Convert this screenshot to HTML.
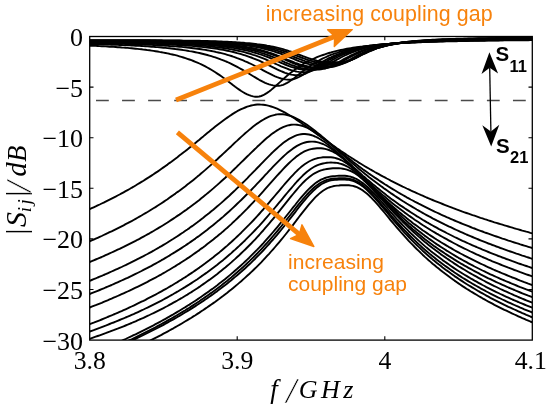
<!DOCTYPE html>
<html><head><meta charset="utf-8"><title>S-parameters vs coupling gap</title>
<style>
html,body{margin:0;padding:0;background:#fff;}
svg{display:block;}
.serif{font-family:"Liberation Serif","DejaVu Serif",serif;}
.sans{font-family:"Liberation Sans","DejaVu Sans",sans-serif;}
</style></head>
<body>
<svg width="550" height="410" viewBox="0 0 550 410">
<rect width="550" height="410" fill="#fff"/>
<defs><clipPath id="pa"><rect x="89.7" y="36.5" width="442.59999999999997" height="303.6"/></clipPath></defs>
<g clip-path="url(#pa)" fill="none" stroke="#000" stroke-width="1.9" stroke-linejoin="round">
<path d="M89.7 209.1 L91.7 208.2 L93.7 207.3 L95.7 206.4 L97.7 205.4 L99.7 204.5 L101.7 203.5 L103.7 202.6 L105.6 201.6 L107.6 200.6 L109.6 199.6 L111.6 198.6 L113.6 197.6 L115.6 196.6 L117.6 195.5 L119.6 194.5 L121.6 193.4 L123.6 192.3 L125.6 191.2 L127.6 190.1 L129.6 189.0 L131.6 187.8 L133.6 186.7 L135.6 185.5 L137.5 184.3 L139.5 183.1 L141.5 181.9 L143.5 180.7 L145.5 179.4 L147.5 178.1 L149.5 176.9 L151.5 175.6 L153.5 174.3 L155.5 172.9 L157.5 171.6 L159.5 170.2 L161.5 168.8 L163.5 167.4 L165.5 166.0 L167.5 164.6 L169.4 163.1 L171.4 161.7 L173.4 160.2 L175.4 158.7 L177.4 157.2 L179.4 155.6 L181.4 154.1 L183.4 152.5 L185.4 151.0 L187.4 149.4 L189.4 147.8 L191.4 146.2 L193.4 144.5 L195.4 142.9 L197.4 141.3 L199.4 139.7 L201.3 138.0 L203.3 136.4 L205.3 134.7 L207.3 133.1 L209.3 131.5 L211.3 129.8 L213.3 128.2 L215.3 126.6 L217.3 125.0 L219.3 123.5 L221.3 122.0 L223.3 120.5 L225.3 119.0 L227.3 117.6 L229.3 116.2 L231.3 114.9 L233.2 113.6 L235.2 112.4 L237.2 111.2 L239.2 110.2 L241.2 109.2 L243.2 108.3 L245.2 107.5 L247.2 106.7 L249.2 106.1 L251.2 105.5 L253.2 105.1 L255.2 104.8 L257.2 104.5 L259.2 104.5 L261.2 104.6 L263.2 104.8 L265.1 105.0 L267.1 105.4 L269.1 105.9 L271.1 106.5 L273.1 107.1 L275.1 107.9 L277.1 108.7 L279.1 109.6 L281.1 110.6 L283.1 111.6 L285.1 112.7 L287.1 113.8 L289.1 115.0 L291.1 116.2 L293.1 117.5 L295.1 118.8 L297.0 120.1 L299.0 121.4 L301.0 122.8 L303.0 124.2 L305.0 125.6 L307.0 127.0 L309.0 128.5 L311.0 129.9 L313.0 131.3 L315.0 132.8 L317.0 134.2 L319.0 135.6 L321.0 137.1 L323.0 138.5 L325.0 139.9 L326.9 141.3 L328.9 142.7 L330.9 144.1 L332.9 145.5 L334.9 146.9 L336.9 148.3 L338.9 149.6 L340.9 151.0 L342.9 152.3 L344.9 153.6 L346.9 155.0 L348.9 156.3 L350.9 157.5 L352.9 158.8 L354.9 160.1 L356.9 161.3 L358.8 162.6 L360.8 163.8 L362.8 165.0 L364.8 166.2 L366.8 167.4 L368.8 168.5 L370.8 169.7 L372.8 170.8 L374.8 172.0 L376.8 173.1 L378.8 174.2 L380.8 175.3 L382.8 176.4 L384.8 177.4 L386.8 178.5 L388.8 179.5 L390.7 180.6 L392.7 181.6 L394.7 182.6 L396.7 183.6 L398.7 184.6 L400.7 185.6 L402.7 186.6 L404.7 187.5 L406.7 188.5 L408.7 189.4 L410.7 190.4 L412.7 191.3 L414.7 192.2 L416.7 193.1 L418.7 194.0 L420.7 194.9 L422.6 195.7 L424.6 196.6 L426.6 197.5 L428.6 198.3 L430.6 199.2 L432.6 200.0 L434.6 200.8 L436.6 201.6 L438.6 202.4 L440.6 203.2 L442.6 204.0 L444.6 204.8 L446.6 205.6 L448.6 206.4 L450.6 207.1 L452.6 207.9 L454.5 208.6 L456.5 209.4 L458.5 210.1 L460.5 210.8 L462.5 211.6 L464.5 212.3 L466.5 213.0 L468.5 213.7 L470.5 214.4 L472.5 215.1 L474.5 215.7 L476.5 216.4 L478.5 217.1 L480.5 217.8 L482.5 218.4 L484.5 219.1 L486.4 219.7 L488.4 220.4 L490.4 221.0 L492.4 221.6 L494.4 222.3 L496.4 222.9 L498.4 223.5 L500.4 224.1 L502.4 224.7 L504.4 225.3 L506.4 225.9 L508.4 226.5 L510.4 227.1 L512.4 227.7 L514.4 228.3 L516.4 228.9 L518.3 229.4 L520.3 230.0 L522.3 230.6 L524.3 231.1 L526.3 231.7 L528.3 232.2 L530.3 232.8 L532.3 233.3"/>
<path d="M89.7 241.3 L91.7 240.4 L93.7 239.6 L95.7 238.7 L97.7 237.8 L99.7 236.9 L101.7 236.0 L103.7 235.0 L105.6 234.1 L107.6 233.2 L109.6 232.2 L111.6 231.3 L113.6 230.3 L115.6 229.3 L117.6 228.3 L119.6 227.3 L121.6 226.3 L123.6 225.3 L125.6 224.2 L127.6 223.2 L129.6 222.1 L131.6 221.1 L133.6 220.0 L135.6 218.9 L137.5 217.8 L139.5 216.6 L141.5 215.5 L143.5 214.3 L145.5 213.1 L147.5 212.0 L149.5 210.8 L151.5 209.5 L153.5 208.3 L155.5 207.1 L157.5 205.8 L159.5 204.5 L161.5 203.2 L163.5 201.9 L165.5 200.5 L167.5 199.2 L169.4 197.8 L171.4 196.4 L173.4 195.0 L175.4 193.6 L177.4 192.1 L179.4 190.7 L181.4 189.2 L183.4 187.7 L185.4 186.2 L187.4 184.6 L189.4 183.1 L191.4 181.5 L193.4 179.9 L195.4 178.3 L197.4 176.6 L199.4 175.0 L201.3 173.3 L203.3 171.6 L205.3 169.9 L207.3 168.1 L209.3 166.4 L211.3 164.6 L213.3 162.8 L215.3 161.0 L217.3 159.2 L219.3 157.3 L221.3 155.5 L223.3 153.6 L225.3 151.8 L227.3 149.9 L229.3 148.0 L231.3 146.2 L233.2 144.3 L235.2 142.4 L237.2 140.6 L239.2 138.7 L241.2 136.9 L243.2 135.1 L245.2 133.3 L247.2 131.6 L249.2 129.9 L251.2 128.2 L253.2 126.6 L255.2 125.1 L257.2 123.6 L259.2 122.2 L261.2 120.9 L263.2 119.7 L265.1 118.6 L267.1 117.6 L269.1 116.7 L271.1 115.9 L273.1 115.3 L275.1 114.8 L277.1 114.4 L279.1 114.2 L281.1 114.2 L283.1 114.3 L285.1 114.6 L287.1 115.0 L289.1 115.5 L291.1 116.1 L293.1 116.9 L295.1 117.8 L297.0 118.8 L299.0 119.8 L301.0 121.0 L303.0 122.2 L305.0 123.5 L307.0 124.9 L309.0 126.3 L311.0 127.8 L313.0 129.3 L315.0 130.8 L317.0 132.4 L319.0 134.0 L321.0 135.6 L323.0 137.3 L325.0 138.9 L326.9 140.6 L328.9 142.2 L330.9 143.9 L332.9 145.6 L334.9 147.2 L336.9 148.9 L338.9 150.5 L340.9 152.1 L342.9 153.8 L344.9 155.4 L346.9 157.0 L348.9 158.5 L350.9 160.1 L352.9 161.7 L354.9 163.2 L356.9 164.7 L358.8 166.2 L360.8 167.7 L362.8 169.2 L364.8 170.6 L366.8 172.0 L368.8 173.5 L370.8 174.9 L372.8 176.2 L374.8 177.6 L376.8 178.9 L378.8 180.3 L380.8 181.6 L382.8 182.9 L384.8 184.2 L386.8 185.4 L388.8 186.7 L390.7 187.9 L392.7 189.1 L394.7 190.3 L396.7 191.5 L398.7 192.7 L400.7 193.9 L402.7 195.0 L404.7 196.1 L406.7 197.3 L408.7 198.4 L410.7 199.5 L412.7 200.5 L414.7 201.6 L416.7 202.6 L418.7 203.7 L420.7 204.7 L422.6 205.7 L424.6 206.7 L426.6 207.7 L428.6 208.7 L430.6 209.7 L432.6 210.6 L434.6 211.6 L436.6 212.5 L438.6 213.4 L440.6 214.4 L442.6 215.3 L444.6 216.2 L446.6 217.1 L448.6 217.9 L450.6 218.8 L452.6 219.7 L454.5 220.5 L456.5 221.3 L458.5 222.2 L460.5 223.0 L462.5 223.8 L464.5 224.6 L466.5 225.4 L468.5 226.2 L470.5 227.0 L472.5 227.8 L474.5 228.5 L476.5 229.3 L478.5 230.1 L480.5 230.8 L482.5 231.5 L484.5 232.3 L486.4 233.0 L488.4 233.7 L490.4 234.4 L492.4 235.1 L494.4 235.8 L496.4 236.5 L498.4 237.2 L500.4 237.9 L502.4 238.6 L504.4 239.2 L506.4 239.9 L508.4 240.6 L510.4 241.2 L512.4 241.8 L514.4 242.5 L516.4 243.1 L518.3 243.7 L520.3 244.4 L522.3 245.0 L524.3 245.6 L526.3 246.2 L528.3 246.8 L530.3 247.4 L532.3 248.0"/>
<path d="M89.7 262.0 L91.7 261.2 L93.7 260.3 L95.7 259.5 L97.7 258.7 L99.7 257.8 L101.7 257.0 L103.7 256.1 L105.6 255.2 L107.6 254.3 L109.6 253.4 L111.6 252.5 L113.6 251.6 L115.6 250.7 L117.6 249.7 L119.6 248.8 L121.6 247.8 L123.6 246.9 L125.6 245.9 L127.6 244.9 L129.6 243.9 L131.6 242.9 L133.6 241.9 L135.6 240.9 L137.5 239.8 L139.5 238.8 L141.5 237.7 L143.5 236.6 L145.5 235.5 L147.5 234.4 L149.5 233.3 L151.5 232.1 L153.5 231.0 L155.5 229.8 L157.5 228.6 L159.5 227.4 L161.5 226.2 L163.5 225.0 L165.5 223.7 L167.5 222.5 L169.4 221.2 L171.4 219.9 L173.4 218.6 L175.4 217.3 L177.4 215.9 L179.4 214.6 L181.4 213.2 L183.4 211.8 L185.4 210.4 L187.4 208.9 L189.4 207.5 L191.4 206.0 L193.4 204.5 L195.4 203.0 L197.4 201.4 L199.4 199.9 L201.3 198.3 L203.3 196.7 L205.3 195.1 L207.3 193.4 L209.3 191.8 L211.3 190.1 L213.3 188.4 L215.3 186.6 L217.3 184.9 L219.3 183.1 L221.3 181.3 L223.3 179.5 L225.3 177.7 L227.3 175.8 L229.3 174.0 L231.3 172.1 L233.2 170.2 L235.2 168.3 L237.2 166.3 L239.2 164.4 L241.2 162.4 L243.2 160.5 L245.2 158.5 L247.2 156.5 L249.2 154.6 L251.2 152.6 L253.2 150.7 L255.2 148.8 L257.2 146.8 L259.2 145.0 L261.2 143.1 L263.2 141.3 L265.1 139.5 L267.1 137.8 L269.1 136.2 L271.1 134.6 L273.1 133.1 L275.1 131.7 L277.1 130.4 L279.1 129.2 L281.1 128.2 L283.1 127.2 L285.1 126.4 L287.1 125.7 L289.1 125.2 L291.1 124.8 L293.1 124.6 L295.1 124.6 L297.0 124.8 L299.0 125.1 L301.0 125.5 L303.0 126.1 L305.0 126.8 L307.0 127.7 L309.0 128.6 L311.0 129.7 L313.0 130.9 L315.0 132.2 L317.0 133.5 L319.0 134.9 L321.0 136.4 L323.0 138.0 L325.0 139.6 L326.9 141.2 L328.9 142.9 L330.9 144.6 L332.9 146.3 L334.9 148.0 L336.9 149.8 L338.9 151.5 L340.9 153.3 L342.9 155.0 L344.9 156.8 L346.9 158.5 L348.9 160.2 L350.9 162.0 L352.9 163.7 L354.9 165.4 L356.9 167.1 L358.8 168.8 L360.8 170.4 L362.8 172.1 L364.8 173.7 L366.8 175.3 L368.8 176.9 L370.8 178.4 L372.8 180.0 L374.8 181.5 L376.8 183.0 L378.8 184.5 L380.8 186.0 L382.8 187.4 L384.8 188.9 L386.8 190.3 L388.8 191.7 L390.7 193.1 L392.7 194.4 L394.7 195.8 L396.7 197.1 L398.7 198.4 L400.7 199.7 L402.7 201.0 L404.7 202.2 L406.7 203.5 L408.7 204.7 L410.7 205.9 L412.7 207.1 L414.7 208.3 L416.7 209.5 L418.7 210.6 L420.7 211.8 L422.6 212.9 L424.6 214.0 L426.6 215.1 L428.6 216.2 L430.6 217.2 L432.6 218.3 L434.6 219.3 L436.6 220.4 L438.6 221.4 L440.6 222.4 L442.6 223.4 L444.6 224.4 L446.6 225.3 L448.6 226.3 L450.6 227.2 L452.6 228.2 L454.5 229.1 L456.5 230.0 L458.5 230.9 L460.5 231.8 L462.5 232.7 L464.5 233.6 L466.5 234.5 L468.5 235.3 L470.5 236.2 L472.5 237.0 L474.5 237.8 L476.5 238.7 L478.5 239.5 L480.5 240.3 L482.5 241.1 L484.5 241.9 L486.4 242.7 L488.4 243.5 L490.4 244.2 L492.4 245.0 L494.4 245.7 L496.4 246.5 L498.4 247.2 L500.4 248.0 L502.4 248.7 L504.4 249.4 L506.4 250.1 L508.4 250.8 L510.4 251.5 L512.4 252.2 L514.4 252.9 L516.4 253.6 L518.3 254.2 L520.3 254.9 L522.3 255.6 L524.3 256.2 L526.3 256.9 L528.3 257.5 L530.3 258.2 L532.3 258.8"/>
<path d="M89.7 280.8 L91.7 280.0 L93.7 279.2 L95.7 278.4 L97.7 277.5 L99.7 276.7 L101.7 275.9 L103.7 275.0 L105.6 274.2 L107.6 273.3 L109.6 272.4 L111.6 271.5 L113.6 270.6 L115.6 269.7 L117.6 268.8 L119.6 267.9 L121.6 267.0 L123.6 266.0 L125.6 265.1 L127.6 264.1 L129.6 263.2 L131.6 262.2 L133.6 261.2 L135.6 260.2 L137.5 259.2 L139.5 258.2 L141.5 257.1 L143.5 256.1 L145.5 255.0 L147.5 254.0 L149.5 252.9 L151.5 251.8 L153.5 250.7 L155.5 249.5 L157.5 248.4 L159.5 247.2 L161.5 246.1 L163.5 244.9 L165.5 243.7 L167.5 242.5 L169.4 241.3 L171.4 240.0 L173.4 238.8 L175.4 237.5 L177.4 236.2 L179.4 234.9 L181.4 233.5 L183.4 232.2 L185.4 230.8 L187.4 229.5 L189.4 228.1 L191.4 226.6 L193.4 225.2 L195.4 223.7 L197.4 222.3 L199.4 220.8 L201.3 219.2 L203.3 217.7 L205.3 216.1 L207.3 214.6 L209.3 213.0 L211.3 211.3 L213.3 209.7 L215.3 208.0 L217.3 206.3 L219.3 204.6 L221.3 202.9 L223.3 201.1 L225.3 199.3 L227.3 197.5 L229.3 195.7 L231.3 193.8 L233.2 192.0 L235.2 190.1 L237.2 188.1 L239.2 186.2 L241.2 184.2 L243.2 182.3 L245.2 180.3 L247.2 178.3 L249.2 176.2 L251.2 174.2 L253.2 172.1 L255.2 170.1 L257.2 168.0 L259.2 166.0 L261.2 163.9 L263.2 161.8 L265.1 159.8 L267.1 157.8 L269.1 155.8 L271.1 153.8 L273.1 151.9 L275.1 150.0 L277.1 148.2 L279.1 146.4 L281.1 144.7 L283.1 143.1 L285.1 141.6 L287.1 140.2 L289.1 138.9 L291.1 137.8 L293.1 136.8 L295.1 135.9 L297.0 135.2 L299.0 134.6 L301.0 134.2 L303.0 134.0 L305.0 134.0 L307.0 134.2 L309.0 134.5 L311.0 135.0 L313.0 135.7 L315.0 136.5 L317.0 137.4 L319.0 138.5 L321.0 139.7 L323.0 141.0 L325.0 142.3 L326.9 143.8 L328.9 145.3 L330.9 146.9 L332.9 148.6 L334.9 150.3 L336.9 152.0 L338.9 153.8 L340.9 155.6 L342.9 157.4 L344.9 159.2 L346.9 161.1 L348.9 162.9 L350.9 164.7 L352.9 166.6 L354.9 168.4 L356.9 170.2 L358.8 172.0 L360.8 173.8 L362.8 175.6 L364.8 177.3 L366.8 179.1 L368.8 180.8 L370.8 182.5 L372.8 184.2 L374.8 185.8 L376.8 187.5 L378.8 189.1 L380.8 190.7 L382.8 192.3 L384.8 193.8 L386.8 195.4 L388.8 196.9 L390.7 198.4 L392.7 199.9 L394.7 201.3 L396.7 202.7 L398.7 204.2 L400.7 205.6 L402.7 206.9 L404.7 208.3 L406.7 209.6 L408.7 210.9 L410.7 212.2 L412.7 213.5 L414.7 214.8 L416.7 216.1 L418.7 217.3 L420.7 218.5 L422.6 219.7 L424.6 220.9 L426.6 222.1 L428.6 223.2 L430.6 224.4 L432.6 225.5 L434.6 226.6 L436.6 227.7 L438.6 228.8 L440.6 229.8 L442.6 230.9 L444.6 231.9 L446.6 233.0 L448.6 234.0 L450.6 235.0 L452.6 236.0 L454.5 237.0 L456.5 237.9 L458.5 238.9 L460.5 239.8 L462.5 240.8 L464.5 241.7 L466.5 242.6 L468.5 243.5 L470.5 244.4 L472.5 245.3 L474.5 246.2 L476.5 247.0 L478.5 247.9 L480.5 248.7 L482.5 249.6 L484.5 250.4 L486.4 251.2 L488.4 252.0 L490.4 252.8 L492.4 253.6 L494.4 254.4 L496.4 255.2 L498.4 256.0 L500.4 256.7 L502.4 257.5 L504.4 258.2 L506.4 259.0 L508.4 259.7 L510.4 260.4 L512.4 261.2 L514.4 261.9 L516.4 262.6 L518.3 263.3 L520.3 264.0 L522.3 264.7 L524.3 265.3 L526.3 266.0 L528.3 266.7 L530.3 267.3 L532.3 268.0"/>
<path d="M89.7 294.0 L91.7 293.2 L93.7 292.4 L95.7 291.6 L97.7 290.8 L99.7 290.0 L101.7 289.2 L103.7 288.4 L105.6 287.5 L107.6 286.7 L109.6 285.8 L111.6 285.0 L113.6 284.1 L115.6 283.2 L117.6 282.3 L119.6 281.4 L121.6 280.5 L123.6 279.6 L125.6 278.7 L127.6 277.8 L129.6 276.8 L131.6 275.9 L133.6 274.9 L135.6 273.9 L137.5 273.0 L139.5 272.0 L141.5 271.0 L143.5 269.9 L145.5 268.9 L147.5 267.9 L149.5 266.8 L151.5 265.8 L153.5 264.7 L155.5 263.6 L157.5 262.5 L159.5 261.4 L161.5 260.2 L163.5 259.1 L165.5 257.9 L167.5 256.7 L169.4 255.6 L171.4 254.3 L173.4 253.1 L175.4 251.9 L177.4 250.6 L179.4 249.4 L181.4 248.1 L183.4 246.8 L185.4 245.5 L187.4 244.1 L189.4 242.8 L191.4 241.4 L193.4 240.0 L195.4 238.6 L197.4 237.1 L199.4 235.7 L201.3 234.2 L203.3 232.7 L205.3 231.2 L207.3 229.7 L209.3 228.1 L211.3 226.5 L213.3 224.9 L215.3 223.3 L217.3 221.6 L219.3 220.0 L221.3 218.3 L223.3 216.6 L225.3 214.8 L227.3 213.0 L229.3 211.3 L231.3 209.4 L233.2 207.6 L235.2 205.7 L237.2 203.8 L239.2 201.9 L241.2 200.0 L243.2 198.0 L245.2 196.0 L247.2 194.0 L249.2 192.0 L251.2 190.0 L253.2 187.9 L255.2 185.8 L257.2 183.7 L259.2 181.6 L261.2 179.5 L263.2 177.3 L265.1 175.2 L267.1 173.1 L269.1 170.9 L271.1 168.8 L273.1 166.7 L275.1 164.6 L277.1 162.6 L279.1 160.6 L281.1 158.6 L283.1 156.7 L285.1 154.9 L287.1 153.1 L289.1 151.5 L291.1 149.9 L293.1 148.4 L295.1 147.1 L297.0 145.9 L299.0 144.8 L301.0 143.9 L303.0 143.1 L305.0 142.5 L307.0 142.0 L309.0 141.7 L311.0 141.6 L313.0 141.6 L315.0 141.8 L317.0 142.1 L319.0 142.6 L321.0 143.3 L323.0 144.0 L325.0 145.0 L326.9 146.0 L328.9 147.2 L330.9 148.5 L332.9 149.9 L334.9 151.4 L336.9 153.0 L338.9 154.7 L340.9 156.4 L342.9 158.1 L344.9 160.0 L346.9 161.8 L348.9 163.7 L350.9 165.6 L352.9 167.5 L354.9 169.4 L356.9 171.3 L358.8 173.2 L360.8 175.1 L362.8 177.0 L364.8 178.9 L366.8 180.8 L368.8 182.6 L370.8 184.5 L372.8 186.3 L374.8 188.1 L376.8 189.9 L378.8 191.7 L380.8 193.4 L382.8 195.1 L384.8 196.8 L386.8 198.5 L388.8 200.2 L390.7 201.8 L392.7 203.4 L394.7 205.0 L396.7 206.5 L398.7 208.1 L400.7 209.6 L402.7 211.1 L404.7 212.6 L406.7 214.0 L408.7 215.5 L410.7 216.9 L412.7 218.3 L414.7 219.7 L416.7 221.0 L418.7 222.3 L420.7 223.7 L422.6 225.0 L424.6 226.2 L426.6 227.5 L428.6 228.7 L430.6 230.0 L432.6 231.2 L434.6 232.4 L436.6 233.6 L438.6 234.7 L440.6 235.9 L442.6 237.0 L444.6 238.1 L446.6 239.2 L448.6 240.3 L450.6 241.4 L452.6 242.5 L454.5 243.5 L456.5 244.5 L458.5 245.6 L460.5 246.6 L462.5 247.6 L464.5 248.6 L466.5 249.5 L468.5 250.5 L470.5 251.5 L472.5 252.4 L474.5 253.3 L476.5 254.3 L478.5 255.2 L480.5 256.1 L482.5 257.0 L484.5 257.8 L486.4 258.7 L488.4 259.6 L490.4 260.4 L492.4 261.3 L494.4 262.1 L496.4 262.9 L498.4 263.7 L500.4 264.5 L502.4 265.3 L504.4 266.1 L506.4 266.9 L508.4 267.7 L510.4 268.4 L512.4 269.2 L514.4 270.0 L516.4 270.7 L518.3 271.4 L520.3 272.2 L522.3 272.9 L524.3 273.6 L526.3 274.3 L528.3 275.0 L530.3 275.7 L532.3 276.4"/>
<path d="M89.7 307.5 L91.7 306.7 L93.7 305.9 L95.7 305.2 L97.7 304.4 L99.7 303.6 L101.7 302.8 L103.7 301.9 L105.6 301.1 L107.6 300.3 L109.6 299.4 L111.6 298.6 L113.6 297.7 L115.6 296.9 L117.6 296.0 L119.6 295.1 L121.6 294.2 L123.6 293.3 L125.6 292.4 L127.6 291.5 L129.6 290.6 L131.6 289.7 L133.6 288.7 L135.6 287.7 L137.5 286.8 L139.5 285.8 L141.5 284.8 L143.5 283.8 L145.5 282.8 L147.5 281.8 L149.5 280.7 L151.5 279.7 L153.5 278.6 L155.5 277.6 L157.5 276.5 L159.5 275.4 L161.5 274.3 L163.5 273.1 L165.5 272.0 L167.5 270.8 L169.4 269.7 L171.4 268.5 L173.4 267.3 L175.4 266.1 L177.4 264.8 L179.4 263.6 L181.4 262.3 L183.4 261.0 L185.4 259.7 L187.4 258.4 L189.4 257.1 L191.4 255.7 L193.4 254.3 L195.4 252.9 L197.4 251.5 L199.4 250.1 L201.3 248.6 L203.3 247.2 L205.3 245.7 L207.3 244.1 L209.3 242.6 L211.3 241.0 L213.3 239.5 L215.3 237.8 L217.3 236.2 L219.3 234.5 L221.3 232.9 L223.3 231.2 L225.3 229.4 L227.3 227.7 L229.3 225.9 L231.3 224.1 L233.2 222.2 L235.2 220.4 L237.2 218.5 L239.2 216.5 L241.2 214.6 L243.2 212.6 L245.2 210.6 L247.2 208.6 L249.2 206.5 L251.2 204.4 L253.2 202.3 L255.2 200.2 L257.2 198.0 L259.2 195.8 L261.2 193.6 L263.2 191.4 L265.1 189.2 L267.1 186.9 L269.1 184.7 L271.1 182.4 L273.1 180.2 L275.1 177.9 L277.1 175.7 L279.1 173.5 L281.1 171.3 L283.1 169.1 L285.1 167.0 L287.1 165.0 L289.1 163.0 L291.1 161.1 L293.1 159.4 L295.1 157.7 L297.0 156.1 L299.0 154.7 L301.0 153.4 L303.0 152.2 L305.0 151.2 L307.0 150.4 L309.0 149.7 L311.0 149.1 L313.0 148.7 L315.0 148.5 L317.0 148.3 L319.0 148.3 L321.0 148.3 L323.0 148.5 L325.0 148.9 L326.9 149.4 L328.9 150.0 L330.9 150.8 L332.9 151.7 L334.9 152.8 L336.9 154.0 L338.9 155.4 L340.9 156.9 L342.9 158.4 L344.9 160.1 L346.9 161.8 L348.9 163.7 L350.9 165.5 L352.9 167.5 L354.9 169.4 L356.9 171.4 L358.8 173.4 L360.8 175.5 L362.8 177.5 L364.8 179.5 L366.8 181.6 L368.8 183.6 L370.8 185.6 L372.8 187.6 L374.8 189.6 L376.8 191.6 L378.8 193.5 L380.8 195.5 L382.8 197.4 L384.8 199.2 L386.8 201.1 L388.8 202.9 L390.7 204.7 L392.7 206.5 L394.7 208.2 L396.7 210.0 L398.7 211.7 L400.7 213.3 L402.7 215.0 L404.7 216.6 L406.7 218.2 L408.7 219.8 L410.7 221.3 L412.7 222.9 L414.7 224.4 L416.7 225.8 L418.7 227.3 L420.7 228.7 L422.6 230.2 L424.6 231.5 L426.6 232.9 L428.6 234.3 L430.6 235.6 L432.6 236.9 L434.6 238.2 L436.6 239.5 L438.6 240.7 L440.6 242.0 L442.6 243.2 L444.6 244.4 L446.6 245.6 L448.6 246.8 L450.6 247.9 L452.6 249.1 L454.5 250.2 L456.5 251.3 L458.5 252.4 L460.5 253.5 L462.5 254.5 L464.5 255.6 L466.5 256.6 L468.5 257.7 L470.5 258.7 L472.5 259.7 L474.5 260.7 L476.5 261.7 L478.5 262.6 L480.5 263.6 L482.5 264.5 L484.5 265.4 L486.4 266.4 L488.4 267.3 L490.4 268.2 L492.4 269.1 L494.4 270.0 L496.4 270.8 L498.4 271.7 L500.4 272.5 L502.4 273.4 L504.4 274.2 L506.4 275.0 L508.4 275.8 L510.4 276.7 L512.4 277.5 L514.4 278.2 L516.4 279.0 L518.3 279.8 L520.3 280.6 L522.3 281.3 L524.3 282.1 L526.3 282.8 L528.3 283.6 L530.3 284.3 L532.3 285.0"/>
<path d="M89.7 324.2 L91.7 323.4 L93.7 322.7 L95.7 321.9 L97.7 321.1 L99.7 320.3 L101.7 319.5 L103.7 318.7 L105.6 317.9 L107.6 317.0 L109.6 316.2 L111.6 315.4 L113.6 314.5 L115.6 313.7 L117.6 312.8 L119.6 311.9 L121.6 311.1 L123.6 310.2 L125.6 309.3 L127.6 308.4 L129.6 307.4 L131.6 306.5 L133.6 305.6 L135.6 304.6 L137.5 303.7 L139.5 302.7 L141.5 301.7 L143.5 300.8 L145.5 299.8 L147.5 298.7 L149.5 297.7 L151.5 296.7 L153.5 295.6 L155.5 294.6 L157.5 293.5 L159.5 292.4 L161.5 291.3 L163.5 290.2 L165.5 289.1 L167.5 288.0 L169.4 286.8 L171.4 285.7 L173.4 284.5 L175.4 283.3 L177.4 282.1 L179.4 280.8 L181.4 279.6 L183.4 278.3 L185.4 277.1 L187.4 275.8 L189.4 274.4 L191.4 273.1 L193.4 271.8 L195.4 270.4 L197.4 269.0 L199.4 267.6 L201.3 266.2 L203.3 264.7 L205.3 263.3 L207.3 261.8 L209.3 260.3 L211.3 258.7 L213.3 257.2 L215.3 255.6 L217.3 254.0 L219.3 252.4 L221.3 250.7 L223.3 249.0 L225.3 247.3 L227.3 245.6 L229.3 243.8 L231.3 242.0 L233.2 240.2 L235.2 238.4 L237.2 236.5 L239.2 234.6 L241.2 232.7 L243.2 230.7 L245.2 228.7 L247.2 226.7 L249.2 224.7 L251.2 222.6 L253.2 220.5 L255.2 218.3 L257.2 216.2 L259.2 214.0 L261.2 211.7 L263.2 209.5 L265.1 207.2 L267.1 204.9 L269.1 202.6 L271.1 200.2 L273.1 197.9 L275.1 195.5 L277.1 193.1 L279.1 190.8 L281.1 188.4 L283.1 186.0 L285.1 183.7 L287.1 181.4 L289.1 179.1 L291.1 176.9 L293.1 174.8 L295.1 172.7 L297.0 170.8 L299.0 168.9 L301.0 167.1 L303.0 165.5 L305.0 164.0 L307.0 162.7 L309.0 161.5 L311.0 160.5 L313.0 159.6 L315.0 158.9 L317.0 158.3 L319.0 157.9 L321.0 157.6 L323.0 157.3 L325.0 157.2 L326.9 157.1 L328.9 157.2 L330.9 157.3 L332.9 157.5 L334.9 157.9 L336.9 158.5 L338.9 159.2 L340.9 160.0 L342.9 161.0 L344.9 162.2 L346.9 163.5 L348.9 164.9 L350.9 166.4 L352.9 168.1 L354.9 169.8 L356.9 171.7 L358.8 173.6 L360.8 175.6 L362.8 177.6 L364.8 179.6 L366.8 181.7 L368.8 183.8 L370.8 185.9 L372.8 188.0 L374.8 190.1 L376.8 192.2 L378.8 194.3 L380.8 196.4 L382.8 198.5 L384.8 200.5 L386.8 202.5 L388.8 204.5 L390.7 206.5 L392.7 208.4 L394.7 210.3 L396.7 212.2 L398.7 214.0 L400.7 215.8 L402.7 217.6 L404.7 219.4 L406.7 221.1 L408.7 222.9 L410.7 224.5 L412.7 226.2 L414.7 227.8 L416.7 229.4 L418.7 231.0 L420.7 232.5 L422.6 234.1 L424.6 235.6 L426.6 237.0 L428.6 238.5 L430.6 239.9 L432.6 241.3 L434.6 242.7 L436.6 244.1 L438.6 245.4 L440.6 246.7 L442.6 248.0 L444.6 249.3 L446.6 250.6 L448.6 251.8 L450.6 253.0 L452.6 254.2 L454.5 255.4 L456.5 256.6 L458.5 257.8 L460.5 258.9 L462.5 260.0 L464.5 261.1 L466.5 262.2 L468.5 263.3 L470.5 264.4 L472.5 265.4 L474.5 266.5 L476.5 267.5 L478.5 268.5 L480.5 269.5 L482.5 270.5 L484.5 271.4 L486.4 272.4 L488.4 273.3 L490.4 274.3 L492.4 275.2 L494.4 276.1 L496.4 277.0 L498.4 277.9 L500.4 278.8 L502.4 279.7 L504.4 280.5 L506.4 281.4 L508.4 282.2 L510.4 283.0 L512.4 283.9 L514.4 284.7 L516.4 285.5 L518.3 286.3 L520.3 287.1 L522.3 287.8 L524.3 288.6 L526.3 289.4 L528.3 290.1 L530.3 290.9 L532.3 291.6"/>
<path d="M89.7 331.5 L91.7 330.8 L93.7 330.1 L95.7 329.3 L97.7 328.6 L99.7 327.9 L101.7 327.1 L103.7 326.3 L105.6 325.6 L107.6 324.8 L109.6 324.0 L111.6 323.2 L113.6 322.5 L115.6 321.7 L117.6 320.8 L119.6 320.0 L121.6 319.2 L123.6 318.4 L125.6 317.5 L127.6 316.7 L129.6 315.8 L131.6 314.9 L133.6 314.1 L135.6 313.2 L137.5 312.3 L139.5 311.3 L141.5 310.4 L143.5 309.5 L145.5 308.5 L147.5 307.6 L149.5 306.6 L151.5 305.6 L153.5 304.6 L155.5 303.6 L157.5 302.6 L159.5 301.6 L161.5 300.6 L163.5 299.5 L165.5 298.4 L167.5 297.3 L169.4 296.2 L171.4 295.1 L173.4 294.0 L175.4 292.8 L177.4 291.7 L179.4 290.5 L181.4 289.3 L183.4 288.1 L185.4 286.9 L187.4 285.6 L189.4 284.4 L191.4 283.1 L193.4 281.8 L195.4 280.5 L197.4 279.2 L199.4 277.8 L201.3 276.4 L203.3 275.0 L205.3 273.6 L207.3 272.2 L209.3 270.7 L211.3 269.2 L213.3 267.7 L215.3 266.2 L217.3 264.7 L219.3 263.1 L221.3 261.5 L223.3 259.9 L225.3 258.2 L227.3 256.5 L229.3 254.8 L231.3 253.1 L233.2 251.3 L235.2 249.6 L237.2 247.7 L239.2 245.9 L241.2 244.0 L243.2 242.1 L245.2 240.2 L247.2 238.2 L249.2 236.2 L251.2 234.2 L253.2 232.1 L255.2 230.0 L257.2 227.9 L259.2 225.8 L261.2 223.6 L263.2 221.4 L265.1 219.1 L267.1 216.8 L269.1 214.5 L271.1 212.2 L273.1 209.9 L275.1 207.5 L277.1 205.1 L279.1 202.7 L281.1 200.3 L283.1 197.9 L285.1 195.4 L287.1 193.0 L289.1 190.6 L291.1 188.3 L293.1 186.0 L295.1 183.7 L297.0 181.5 L299.0 179.3 L301.0 177.3 L303.0 175.3 L305.0 173.5 L307.0 171.7 L309.0 170.2 L311.0 168.7 L313.0 167.5 L315.0 166.3 L317.0 165.4 L319.0 164.6 L321.0 164.0 L323.0 163.5 L325.0 163.1 L326.9 162.8 L328.9 162.6 L330.9 162.5 L332.9 162.6 L334.9 162.7 L336.9 162.9 L338.9 163.3 L340.9 163.8 L342.9 164.5 L344.9 165.3 L346.9 166.3 L348.9 167.5 L350.9 168.8 L352.9 170.2 L354.9 171.8 L356.9 173.5 L358.8 175.3 L360.8 177.1 L362.8 179.1 L364.8 181.1 L366.8 183.1 L368.8 185.2 L370.8 187.3 L372.8 189.4 L374.8 191.6 L376.8 193.7 L378.8 195.9 L380.8 198.0 L382.8 200.1 L384.8 202.2 L386.8 204.3 L388.8 206.4 L390.7 208.4 L392.7 210.4 L394.7 212.4 L396.7 214.4 L398.7 216.3 L400.7 218.2 L402.7 220.1 L404.7 222.0 L406.7 223.8 L408.7 225.6 L410.7 227.3 L412.7 229.1 L414.7 230.8 L416.7 232.5 L418.7 234.1 L420.7 235.7 L422.6 237.3 L424.6 238.9 L426.6 240.4 L428.6 241.9 L430.6 243.4 L432.6 244.9 L434.6 246.4 L436.6 247.8 L438.6 249.2 L440.6 250.6 L442.6 251.9 L444.6 253.3 L446.6 254.6 L448.6 255.9 L450.6 257.1 L452.6 258.4 L454.5 259.6 L456.5 260.9 L458.5 262.1 L460.5 263.3 L462.5 264.4 L464.5 265.6 L466.5 266.7 L468.5 267.8 L470.5 268.9 L472.5 270.0 L474.5 271.1 L476.5 272.2 L478.5 273.2 L480.5 274.3 L482.5 275.3 L484.5 276.3 L486.4 277.3 L488.4 278.3 L490.4 279.2 L492.4 280.2 L494.4 281.1 L496.4 282.1 L498.4 283.0 L500.4 283.9 L502.4 284.8 L504.4 285.7 L506.4 286.6 L508.4 287.5 L510.4 288.3 L512.4 289.2 L514.4 290.0 L516.4 290.9 L518.3 291.7 L520.3 292.5 L522.3 293.3 L524.3 294.1 L526.3 294.9 L528.3 295.7 L530.3 296.4 L532.3 297.2"/>
<path d="M89.7 338.8 L91.7 338.1 L93.7 337.4 L95.7 336.7 L97.7 336.0 L99.7 335.3 L101.7 334.6 L103.7 333.9 L105.6 333.2 L107.6 332.4 L109.6 331.7 L111.6 330.9 L113.6 330.2 L115.6 329.4 L117.6 328.7 L119.6 327.9 L121.6 327.1 L123.6 326.3 L125.6 325.5 L127.6 324.7 L129.6 323.8 L131.6 323.0 L133.6 322.1 L135.6 321.3 L137.5 320.4 L139.5 319.5 L141.5 318.7 L143.5 317.8 L145.5 316.8 L147.5 315.9 L149.5 315.0 L151.5 314.0 L153.5 313.1 L155.5 312.1 L157.5 311.1 L159.5 310.1 L161.5 309.1 L163.5 308.1 L165.5 307.0 L167.5 306.0 L169.4 304.9 L171.4 303.8 L173.4 302.7 L175.4 301.6 L177.4 300.5 L179.4 299.3 L181.4 298.2 L183.4 297.0 L185.4 295.8 L187.4 294.6 L189.4 293.3 L191.4 292.1 L193.4 290.8 L195.4 289.5 L197.4 288.2 L199.4 286.9 L201.3 285.5 L203.3 284.1 L205.3 282.7 L207.3 281.3 L209.3 279.9 L211.3 278.4 L213.3 276.9 L215.3 275.4 L217.3 273.9 L219.3 272.3 L221.3 270.7 L223.3 269.1 L225.3 267.5 L227.3 265.8 L229.3 264.1 L231.3 262.4 L233.2 260.6 L235.2 258.9 L237.2 257.0 L239.2 255.2 L241.2 253.3 L243.2 251.4 L245.2 249.5 L247.2 247.5 L249.2 245.5 L251.2 243.5 L253.2 241.4 L255.2 239.3 L257.2 237.1 L259.2 235.0 L261.2 232.7 L263.2 230.5 L265.1 228.2 L267.1 225.9 L269.1 223.6 L271.1 221.2 L273.1 218.8 L275.1 216.3 L277.1 213.9 L279.1 211.4 L281.1 208.9 L283.1 206.4 L285.1 203.9 L287.1 201.4 L289.1 198.9 L291.1 196.4 L293.1 194.0 L295.1 191.6 L297.0 189.3 L299.0 187.0 L301.0 184.8 L303.0 182.7 L305.0 180.8 L307.0 178.9 L309.0 177.3 L311.0 175.7 L313.0 174.3 L315.0 173.1 L317.0 172.1 L319.0 171.2 L321.0 170.4 L323.0 169.8 L325.0 169.4 L326.9 169.0 L328.9 168.7 L330.9 168.5 L332.9 168.3 L334.9 168.2 L336.9 168.2 L338.9 168.3 L340.9 168.4 L342.9 168.7 L344.9 169.1 L346.9 169.6 L348.9 170.3 L350.9 171.1 L352.9 172.1 L354.9 173.3 L356.9 174.6 L358.8 176.1 L360.8 177.7 L362.8 179.4 L364.8 181.2 L366.8 183.2 L368.8 185.2 L370.8 187.3 L372.8 189.4 L374.8 191.5 L376.8 193.7 L378.8 195.9 L380.8 198.2 L382.8 200.4 L384.8 202.6 L386.8 204.8 L388.8 207.0 L390.7 209.2 L392.7 211.3 L394.7 213.5 L396.7 215.6 L398.7 217.6 L400.7 219.7 L402.7 221.7 L404.7 223.6 L406.7 225.6 L408.7 227.5 L410.7 229.4 L412.7 231.2 L414.7 233.1 L416.7 234.8 L418.7 236.6 L420.7 238.3 L422.6 240.0 L424.6 241.7 L426.6 243.3 L428.6 244.9 L430.6 246.5 L432.6 248.1 L434.6 249.6 L436.6 251.1 L438.6 252.6 L440.6 254.1 L442.6 255.5 L444.6 256.9 L446.6 258.3 L448.6 259.6 L450.6 261.0 L452.6 262.3 L454.5 263.6 L456.5 264.9 L458.5 266.2 L460.5 267.4 L462.5 268.6 L464.5 269.8 L466.5 271.0 L468.5 272.2 L470.5 273.4 L472.5 274.5 L474.5 275.6 L476.5 276.7 L478.5 277.8 L480.5 278.9 L482.5 280.0 L484.5 281.0 L486.4 282.1 L488.4 283.1 L490.4 284.1 L492.4 285.1 L494.4 286.1 L496.4 287.0 L498.4 288.0 L500.4 289.0 L502.4 289.9 L504.4 290.8 L506.4 291.7 L508.4 292.6 L510.4 293.5 L512.4 294.4 L514.4 295.3 L516.4 296.1 L518.3 297.0 L520.3 297.8 L522.3 298.7 L524.3 299.5 L526.3 300.3 L528.3 301.1 L530.3 301.9 L532.3 302.7"/>
<path d="M89.7 354.3 L91.7 353.5 L93.7 352.7 L95.7 351.9 L97.7 351.1 L99.7 350.3 L101.7 349.4 L103.7 348.6 L105.6 347.8 L107.6 346.9 L109.6 346.1 L111.6 345.2 L113.6 344.3 L115.6 343.4 L117.6 342.6 L119.6 341.7 L121.6 340.8 L123.6 339.9 L125.6 339.0 L127.6 338.0 L129.6 337.1 L131.6 336.2 L133.6 335.2 L135.6 334.3 L137.5 333.3 L139.5 332.3 L141.5 331.3 L143.5 330.4 L145.5 329.4 L147.5 328.3 L149.5 327.3 L151.5 326.3 L153.5 325.3 L155.5 324.2 L157.5 323.2 L159.5 322.1 L161.5 321.0 L163.5 319.9 L165.5 318.8 L167.5 317.7 L169.4 316.6 L171.4 315.4 L173.4 314.3 L175.4 313.1 L177.4 311.9 L179.4 310.7 L181.4 309.5 L183.4 308.3 L185.4 307.1 L187.4 305.8 L189.4 304.6 L191.4 303.3 L193.4 302.0 L195.4 300.7 L197.4 299.4 L199.4 298.0 L201.3 296.7 L203.3 295.3 L205.3 293.9 L207.3 292.5 L209.3 291.1 L211.3 289.6 L213.3 288.2 L215.3 286.7 L217.3 285.2 L219.3 283.6 L221.3 282.1 L223.3 280.5 L225.3 278.9 L227.3 277.3 L229.3 275.6 L231.3 273.9 L233.2 272.3 L235.2 270.5 L237.2 268.8 L239.2 267.0 L241.2 265.2 L243.2 263.4 L245.2 261.5 L247.2 259.6 L249.2 257.7 L251.2 255.7 L253.2 253.7 L255.2 251.7 L257.2 249.7 L259.2 247.6 L261.2 245.5 L263.2 243.3 L265.1 241.1 L267.1 238.9 L269.1 236.6 L271.1 234.3 L273.1 232.0 L275.1 229.7 L277.1 227.3 L279.1 224.9 L281.1 222.4 L283.1 220.0 L285.1 217.5 L287.1 215.0 L289.1 212.5 L291.1 210.0 L293.1 207.4 L295.1 205.0 L297.0 202.5 L299.0 200.0 L301.0 197.7 L303.0 195.3 L305.0 193.1 L307.0 190.9 L309.0 188.9 L311.0 187.0 L313.0 185.2 L315.0 183.6 L317.0 182.1 L319.0 180.8 L321.0 179.7 L323.0 178.8 L325.0 178.0 L326.9 177.4 L328.9 176.9 L330.9 176.5 L332.9 176.3 L334.9 176.1 L336.9 175.9 L338.9 175.8 L340.9 175.8 L342.9 175.8 L344.9 175.8 L346.9 176.0 L348.9 176.4 L350.9 176.8 L352.9 177.5 L354.9 178.3 L356.9 179.2 L358.8 180.4 L360.8 181.7 L362.8 183.1 L364.8 184.7 L366.8 186.5 L368.8 188.3 L370.8 190.3 L372.8 192.3 L374.8 194.4 L376.8 196.5 L378.8 198.7 L380.8 201.0 L382.8 203.2 L384.8 205.5 L386.8 207.7 L388.8 210.0 L390.7 212.2 L392.7 214.4 L394.7 216.6 L396.7 218.8 L398.7 220.9 L400.7 223.0 L402.7 225.1 L404.7 227.2 L406.7 229.2 L408.7 231.2 L410.7 233.1 L412.7 235.0 L414.7 236.9 L416.7 238.8 L418.7 240.6 L420.7 242.4 L422.6 244.1 L424.6 245.9 L426.6 247.6 L428.6 249.2 L430.6 250.9 L432.6 252.5 L434.6 254.0 L436.6 255.6 L438.6 257.1 L440.6 258.6 L442.6 260.1 L444.6 261.5 L446.6 262.9 L448.6 264.3 L450.6 265.7 L452.6 267.1 L454.5 268.4 L456.5 269.7 L458.5 271.0 L460.5 272.2 L462.5 273.5 L464.5 274.7 L466.5 275.9 L468.5 277.1 L470.5 278.3 L472.5 279.4 L474.5 280.6 L476.5 281.7 L478.5 282.8 L480.5 283.9 L482.5 285.0 L484.5 286.0 L486.4 287.1 L488.4 288.1 L490.4 289.1 L492.4 290.1 L494.4 291.1 L496.4 292.1 L498.4 293.0 L500.4 294.0 L502.4 294.9 L504.4 295.9 L506.4 296.8 L508.4 297.7 L510.4 298.6 L512.4 299.5 L514.4 300.3 L516.4 301.2 L518.3 302.0 L520.3 302.9 L522.3 303.7 L524.3 304.5 L526.3 305.3 L528.3 306.1 L530.3 306.9 L532.3 307.7"/>
<path d="M89.7 357.7 L91.7 356.9 L93.7 356.0 L95.7 355.2 L97.7 354.4 L99.7 353.5 L101.7 352.7 L103.7 351.8 L105.6 351.0 L107.6 350.1 L109.6 349.3 L111.6 348.4 L113.6 347.5 L115.6 346.6 L117.6 345.7 L119.6 344.8 L121.6 343.9 L123.6 343.0 L125.6 342.1 L127.6 341.1 L129.6 340.2 L131.6 339.3 L133.6 338.3 L135.6 337.3 L137.5 336.4 L139.5 335.4 L141.5 334.4 L143.5 333.4 L145.5 332.4 L147.5 331.4 L149.5 330.4 L151.5 329.3 L153.5 328.3 L155.5 327.3 L157.5 326.2 L159.5 325.1 L161.5 324.0 L163.5 322.9 L165.5 321.8 L167.5 320.7 L169.4 319.6 L171.4 318.5 L173.4 317.3 L175.4 316.2 L177.4 315.0 L179.4 313.8 L181.4 312.6 L183.4 311.4 L185.4 310.2 L187.4 308.9 L189.4 307.7 L191.4 306.4 L193.4 305.1 L195.4 303.8 L197.4 302.5 L199.4 301.2 L201.3 299.8 L203.3 298.5 L205.3 297.1 L207.3 295.7 L209.3 294.3 L211.3 292.9 L213.3 291.4 L215.3 289.9 L217.3 288.4 L219.3 286.9 L221.3 285.4 L223.3 283.8 L225.3 282.3 L227.3 280.7 L229.3 279.0 L231.3 277.4 L233.2 275.7 L235.2 274.0 L237.2 272.3 L239.2 270.5 L241.2 268.8 L243.2 267.0 L245.2 265.1 L247.2 263.2 L249.2 261.4 L251.2 259.4 L253.2 257.5 L255.2 255.5 L257.2 253.5 L259.2 251.4 L261.2 249.3 L263.2 247.2 L265.1 245.0 L267.1 242.8 L269.1 240.6 L271.1 238.3 L273.1 236.0 L275.1 233.7 L277.1 231.3 L279.1 228.9 L281.1 226.5 L283.1 224.0 L285.1 221.5 L287.1 219.0 L289.1 216.5 L291.1 214.0 L293.1 211.5 L295.1 208.9 L297.0 206.4 L299.0 203.9 L301.0 201.5 L303.0 199.1 L305.0 196.8 L307.0 194.5 L309.0 192.4 L311.0 190.4 L313.0 188.5 L315.0 186.7 L317.0 185.2 L319.0 183.8 L321.0 182.5 L323.0 181.5 L325.0 180.6 L326.9 179.9 L328.9 179.4 L330.9 179.0 L332.9 178.7 L334.9 178.5 L336.9 178.4 L338.9 178.3 L340.9 178.2 L342.9 178.2 L344.9 178.2 L346.9 178.4 L348.9 178.7 L350.9 179.1 L352.9 179.7 L354.9 180.5 L356.9 181.4 L358.8 182.6 L360.8 183.8 L362.8 185.3 L364.8 186.9 L366.8 188.7 L368.8 190.6 L370.8 192.5 L372.8 194.6 L374.8 196.8 L376.8 199.0 L378.8 201.2 L380.8 203.5 L382.8 205.8 L384.8 208.1 L386.8 210.4 L388.8 212.7 L390.7 215.0 L392.7 217.3 L394.7 219.6 L396.7 221.8 L398.7 224.0 L400.7 226.1 L402.7 228.3 L404.7 230.4 L406.7 232.4 L408.7 234.5 L410.7 236.5 L412.7 238.4 L414.7 240.4 L416.7 242.3 L418.7 244.1 L420.7 245.9 L422.6 247.7 L424.6 249.5 L426.6 251.2 L428.6 252.9 L430.6 254.6 L432.6 256.2 L434.6 257.8 L436.6 259.4 L438.6 261.0 L440.6 262.5 L442.6 264.0 L444.6 265.5 L446.6 266.9 L448.6 268.3 L450.6 269.7 L452.6 271.1 L454.5 272.5 L456.5 273.8 L458.5 275.1 L460.5 276.4 L462.5 277.7 L464.5 278.9 L466.5 280.1 L468.5 281.4 L470.5 282.5 L472.5 283.7 L474.5 284.9 L476.5 286.0 L478.5 287.1 L480.5 288.3 L482.5 289.4 L484.5 290.4 L486.4 291.5 L488.4 292.5 L490.4 293.6 L492.4 294.6 L494.4 295.6 L496.4 296.6 L498.4 297.6 L500.4 298.5 L502.4 299.5 L504.4 300.4 L506.4 301.4 L508.4 302.3 L510.4 303.2 L512.4 304.1 L514.4 305.0 L516.4 305.9 L518.3 306.7 L520.3 307.6 L522.3 308.4 L524.3 309.3 L526.3 310.1 L528.3 310.9 L530.3 311.7 L532.3 312.5"/>
<path d="M89.7 358.5 L91.7 357.7 L93.7 357.0 L95.7 356.2 L97.7 355.3 L99.7 354.5 L101.7 353.7 L103.7 352.9 L105.6 352.1 L107.6 351.2 L109.6 350.4 L111.6 349.5 L113.6 348.7 L115.6 347.8 L117.6 347.0 L119.6 346.1 L121.6 345.2 L123.6 344.3 L125.6 343.4 L127.6 342.5 L129.6 341.6 L131.6 340.7 L133.6 339.7 L135.6 338.8 L137.5 337.9 L139.5 336.9 L141.5 336.0 L143.5 335.0 L145.5 334.0 L147.5 333.0 L149.5 332.0 L151.5 331.0 L153.5 330.0 L155.5 329.0 L157.5 328.0 L159.5 326.9 L161.5 325.9 L163.5 324.8 L165.5 323.7 L167.5 322.6 L169.4 321.5 L171.4 320.4 L173.4 319.3 L175.4 318.2 L177.4 317.0 L179.4 315.9 L181.4 314.7 L183.4 313.5 L185.4 312.3 L187.4 311.1 L189.4 309.9 L191.4 308.6 L193.4 307.4 L195.4 306.1 L197.4 304.8 L199.4 303.5 L201.3 302.2 L203.3 300.9 L205.3 299.5 L207.3 298.2 L209.3 296.8 L211.3 295.4 L213.3 294.0 L215.3 292.5 L217.3 291.1 L219.3 289.6 L221.3 288.1 L223.3 286.6 L225.3 285.0 L227.3 283.4 L229.3 281.8 L231.3 280.2 L233.2 278.6 L235.2 276.9 L237.2 275.2 L239.2 273.5 L241.2 271.8 L243.2 270.0 L245.2 268.2 L247.2 266.3 L249.2 264.5 L251.2 262.6 L253.2 260.6 L255.2 258.7 L257.2 256.7 L259.2 254.7 L261.2 252.6 L263.2 250.5 L265.1 248.4 L267.1 246.2 L269.1 244.0 L271.1 241.7 L273.1 239.5 L275.1 237.1 L277.1 234.8 L279.1 232.4 L281.1 230.0 L283.1 227.5 L285.1 225.0 L287.1 222.5 L289.1 220.0 L291.1 217.4 L293.1 214.9 L295.1 212.3 L297.0 209.8 L299.0 207.2 L301.0 204.7 L303.0 202.2 L305.0 199.8 L307.0 197.5 L309.0 195.2 L311.0 193.1 L313.0 191.0 L315.0 189.2 L317.0 187.4 L319.0 185.9 L321.0 184.5 L323.0 183.3 L325.0 182.3 L326.9 181.5 L328.9 180.9 L330.9 180.4 L332.9 180.1 L334.9 179.8 L336.9 179.7 L338.9 179.6 L340.9 179.6 L342.9 179.5 L344.9 179.6 L346.9 179.7 L348.9 179.9 L350.9 180.3 L352.9 180.9 L354.9 181.7 L356.9 182.6 L358.8 183.7 L360.8 185.0 L362.8 186.4 L364.8 188.1 L366.8 189.8 L368.8 191.8 L370.8 193.8 L372.8 195.9 L374.8 198.1 L376.8 200.4 L378.8 202.7 L380.8 205.1 L382.8 207.4 L384.8 209.8 L386.8 212.2 L388.8 214.6 L390.7 217.0 L392.7 219.3 L394.7 221.6 L396.7 223.9 L398.7 226.2 L400.7 228.4 L402.7 230.6 L404.7 232.8 L406.7 234.9 L408.7 237.0 L410.7 239.1 L412.7 241.1 L414.7 243.1 L416.7 245.0 L418.7 246.9 L420.7 248.8 L422.6 250.7 L424.6 252.5 L426.6 254.2 L428.6 256.0 L430.6 257.7 L432.6 259.4 L434.6 261.0 L436.6 262.7 L438.6 264.3 L440.6 265.8 L442.6 267.4 L444.6 268.9 L446.6 270.4 L448.6 271.8 L450.6 273.3 L452.6 274.7 L454.5 276.1 L456.5 277.4 L458.5 278.8 L460.5 280.1 L462.5 281.4 L464.5 282.7 L466.5 284.0 L468.5 285.2 L470.5 286.4 L472.5 287.6 L474.5 288.8 L476.5 290.0 L478.5 291.2 L480.5 292.3 L482.5 293.4 L484.5 294.5 L486.4 295.6 L488.4 296.7 L490.4 297.8 L492.4 298.8 L494.4 299.9 L496.4 300.9 L498.4 301.9 L500.4 302.9 L502.4 303.9 L504.4 304.9 L506.4 305.8 L508.4 306.8 L510.4 307.7 L512.4 308.6 L514.4 309.5 L516.4 310.4 L518.3 311.3 L520.3 312.2 L522.3 313.1 L524.3 313.9 L526.3 314.8 L528.3 315.6 L530.3 316.5 L532.3 317.3"/>
<path d="M89.7 367.5 L91.7 366.7 L93.7 365.9 L95.7 365.1 L97.7 364.3 L99.7 363.5 L101.7 362.6 L103.7 361.8 L105.6 361.0 L107.6 360.1 L109.6 359.3 L111.6 358.4 L113.6 357.6 L115.6 356.7 L117.6 355.9 L119.6 355.0 L121.6 354.1 L123.6 353.2 L125.6 352.3 L127.6 351.4 L129.6 350.5 L131.6 349.6 L133.6 348.7 L135.6 347.7 L137.5 346.8 L139.5 345.8 L141.5 344.9 L143.5 343.9 L145.5 342.9 L147.5 341.9 L149.5 340.9 L151.5 339.9 L153.5 338.9 L155.5 337.9 L157.5 336.9 L159.5 335.8 L161.5 334.8 L163.5 333.7 L165.5 332.7 L167.5 331.6 L169.4 330.5 L171.4 329.4 L173.4 328.3 L175.4 327.1 L177.4 326.0 L179.4 324.9 L181.4 323.7 L183.4 322.5 L185.4 321.3 L187.4 320.1 L189.4 318.9 L191.4 317.7 L193.4 316.4 L195.4 315.2 L197.4 313.9 L199.4 312.6 L201.3 311.3 L203.3 310.0 L205.3 308.6 L207.3 307.3 L209.3 305.9 L211.3 304.5 L213.3 303.1 L215.3 301.7 L217.3 300.2 L219.3 298.8 L221.3 297.3 L223.3 295.8 L225.3 294.2 L227.3 292.7 L229.3 291.1 L231.3 289.5 L233.2 287.9 L235.2 286.3 L237.2 284.6 L239.2 282.9 L241.2 281.2 L243.2 279.4 L245.2 277.6 L247.2 275.8 L249.2 274.0 L251.2 272.1 L253.2 270.2 L255.2 268.3 L257.2 266.3 L259.2 264.3 L261.2 262.3 L263.2 260.2 L265.1 258.1 L267.1 255.9 L269.1 253.8 L271.1 251.5 L273.1 249.3 L275.1 247.0 L277.1 244.7 L279.1 242.3 L281.1 239.9 L283.1 237.5 L285.1 235.0 L287.1 232.5 L289.1 229.9 L291.1 227.4 L293.1 224.8 L295.1 222.2 L297.0 219.6 L299.0 217.0 L301.0 214.4 L303.0 211.8 L305.0 209.3 L307.0 206.8 L309.0 204.4 L311.0 202.1 L313.0 199.8 L315.0 197.7 L317.0 195.7 L319.0 193.9 L321.0 192.2 L323.0 190.8 L325.0 189.5 L326.9 188.4 L328.9 187.5 L330.9 186.8 L332.9 186.3 L334.9 185.9 L336.9 185.6 L338.9 185.5 L340.9 185.3 L342.9 185.3 L344.9 185.2 L346.9 185.2 L348.9 185.3 L350.9 185.6 L352.9 185.9 L354.9 186.5 L356.9 187.2 L358.8 188.1 L360.8 189.2 L362.8 190.4 L364.8 191.9 L366.8 193.5 L368.8 195.3 L370.8 197.2 L372.8 199.3 L374.8 201.4 L376.8 203.6 L378.8 205.9 L380.8 208.3 L382.8 210.6 L384.8 213.0 L386.8 215.5 L388.8 217.9 L390.7 220.3 L392.7 222.7 L394.7 225.0 L396.7 227.4 L398.7 229.7 L400.7 232.0 L402.7 234.2 L404.7 236.4 L406.7 238.6 L408.7 240.8 L410.7 242.9 L412.7 244.9 L414.7 247.0 L416.7 249.0 L418.7 250.9 L420.7 252.8 L422.6 254.7 L424.6 256.6 L426.6 258.4 L428.6 260.2 L430.6 261.9 L432.6 263.7 L434.6 265.3 L436.6 267.0 L438.6 268.6 L440.6 270.2 L442.6 271.8 L444.6 273.3 L446.6 274.8 L448.6 276.3 L450.6 277.8 L452.6 279.2 L454.5 280.6 L456.5 282.0 L458.5 283.4 L460.5 284.7 L462.5 286.1 L464.5 287.4 L466.5 288.7 L468.5 289.9 L470.5 291.2 L472.5 292.4 L474.5 293.6 L476.5 294.8 L478.5 296.0 L480.5 297.1 L482.5 298.3 L484.5 299.4 L486.4 300.5 L488.4 301.6 L490.4 302.6 L492.4 303.7 L494.4 304.8 L496.4 305.8 L498.4 306.8 L500.4 307.8 L502.4 308.8 L504.4 309.8 L506.4 310.7 L508.4 311.7 L510.4 312.6 L512.4 313.6 L514.4 314.5 L516.4 315.4 L518.3 316.3 L520.3 317.2 L522.3 318.1 L524.3 318.9 L526.3 319.8 L528.3 320.6 L530.3 321.5 L532.3 322.3"/>
<path d="M89.7 45.7 L91.7 45.8 L93.7 45.8 L95.7 45.9 L97.7 46.0 L99.7 46.1 L101.7 46.2 L103.7 46.3 L105.6 46.4 L107.6 46.5 L109.6 46.7 L111.6 46.8 L113.6 46.9 L115.6 47.0 L117.6 47.2 L119.6 47.3 L121.6 47.5 L123.6 47.6 L125.6 47.8 L127.6 47.9 L129.6 48.1 L131.6 48.3 L133.6 48.5 L135.6 48.7 L137.5 48.9 L139.5 49.1 L141.5 49.3 L143.5 49.6 L145.5 49.8 L147.5 50.1 L149.5 50.3 L151.5 50.6 L153.5 50.9 L155.5 51.2 L157.5 51.5 L159.5 51.9 L161.5 52.2 L163.5 52.6 L165.5 53.0 L167.5 53.4 L169.4 53.8 L171.4 54.3 L173.4 54.7 L175.4 55.2 L177.4 55.7 L179.4 56.3 L181.4 56.9 L183.4 57.5 L185.4 58.1 L187.4 58.8 L189.4 59.5 L191.4 60.2 L193.4 61.0 L195.4 61.8 L197.4 62.6 L199.4 63.5 L201.3 64.4 L203.3 65.4 L205.3 66.4 L207.3 67.5 L209.3 68.6 L211.3 69.8 L213.3 71.0 L215.3 72.3 L217.3 73.6 L219.3 74.9 L221.3 76.3 L223.3 77.7 L225.3 79.2 L227.3 80.7 L229.3 82.2 L231.3 83.7 L233.2 85.3 L235.2 86.8 L237.2 88.2 L239.2 89.6 L241.2 91.0 L243.2 92.2 L245.2 93.4 L247.2 94.4 L249.2 95.2 L251.2 95.9 L253.2 96.4 L255.2 96.7 L257.2 96.7 L259.2 96.5 L261.2 96.0 L263.2 95.2 L265.1 94.1 L267.1 92.9 L269.1 91.5 L271.1 89.9 L273.1 88.2 L275.1 86.5 L277.1 84.7 L279.1 82.9 L281.1 81.1 L283.1 79.3 L285.1 77.5 L287.1 75.8 L289.1 74.1 L291.1 72.5 L293.1 71.0 L295.1 69.5 L297.0 68.1 L299.0 66.7 L301.0 65.4 L303.0 64.2 L305.0 63.0 L307.0 61.9 L309.0 60.9 L311.0 59.9 L313.0 59.0 L315.0 58.1 L317.0 57.2 L319.0 56.4 L321.0 55.7 L323.0 55.0 L325.0 54.3 L326.9 53.6 L328.9 53.0 L330.9 52.5 L332.9 51.9 L334.9 51.4 L336.9 50.9 L338.9 50.4 L340.9 50.0 L342.9 49.6 L344.9 49.2 L346.9 48.8 L348.9 48.4 L350.9 48.1 L352.9 47.8 L354.9 47.5 L356.9 47.2 L358.8 46.9 L360.8 46.6 L362.8 46.4 L364.8 46.1 L366.8 45.9 L368.8 45.7 L370.8 45.4 L372.8 45.2 L374.8 45.0 L376.8 44.9 L378.8 44.7 L380.8 44.5 L382.8 44.3 L384.8 44.2 L386.8 44.0 L388.8 43.9 L390.7 43.8 L392.7 43.6 L394.7 43.5 L396.7 43.4 L398.7 43.3 L400.7 43.1 L402.7 43.0 L404.7 42.9 L406.7 42.8 L408.7 42.7 L410.7 42.6 L412.7 42.5 L414.7 42.5 L416.7 42.4 L418.7 42.3 L420.7 42.2 L422.6 42.1 L424.6 42.1 L426.6 42.0 L428.6 41.9 L430.6 41.8 L432.6 41.8 L434.6 41.7 L436.6 41.7 L438.6 41.6 L440.6 41.5 L442.6 41.5 L444.6 41.4 L446.6 41.4 L448.6 41.3 L450.6 41.3 L452.6 41.2 L454.5 41.2 L456.5 41.2 L458.5 41.1 L460.5 41.1 L462.5 41.0 L464.5 41.0 L466.5 41.0 L468.5 40.9 L470.5 40.9 L472.5 40.8 L474.5 40.8 L476.5 40.8 L478.5 40.7 L480.5 40.7 L482.5 40.7 L484.5 40.7 L486.4 40.6 L488.4 40.6 L490.4 40.6 L492.4 40.5 L494.4 40.5 L496.4 40.5 L498.4 40.5 L500.4 40.4 L502.4 40.4 L504.4 40.4 L506.4 40.4 L508.4 40.3 L510.4 40.3 L512.4 40.3 L514.4 40.3 L516.4 40.3 L518.3 40.2 L520.3 40.2 L522.3 40.2 L524.3 40.2 L526.3 40.2 L528.3 40.2 L530.3 40.1 L532.3 40.1"/>
<path d="M89.7 44.1 L91.7 44.1 L93.7 44.2 L95.7 44.2 L97.7 44.3 L99.7 44.3 L101.7 44.4 L103.7 44.4 L105.6 44.5 L107.6 44.6 L109.6 44.6 L111.6 44.7 L113.6 44.7 L115.6 44.8 L117.6 44.9 L119.6 45.0 L121.6 45.0 L123.6 45.1 L125.6 45.2 L127.6 45.3 L129.6 45.4 L131.6 45.5 L133.6 45.6 L135.6 45.7 L137.5 45.8 L139.5 45.9 L141.5 46.0 L143.5 46.1 L145.5 46.3 L147.5 46.4 L149.5 46.5 L151.5 46.7 L153.5 46.8 L155.5 47.0 L157.5 47.1 L159.5 47.3 L161.5 47.5 L163.5 47.7 L165.5 47.9 L167.5 48.1 L169.4 48.3 L171.4 48.5 L173.4 48.7 L175.4 49.0 L177.4 49.2 L179.4 49.5 L181.4 49.8 L183.4 50.1 L185.4 50.4 L187.4 50.7 L189.4 51.1 L191.4 51.4 L193.4 51.8 L195.4 52.2 L197.4 52.6 L199.4 53.0 L201.3 53.5 L203.3 54.0 L205.3 54.5 L207.3 55.0 L209.3 55.6 L211.3 56.2 L213.3 56.8 L215.3 57.4 L217.3 58.1 L219.3 58.8 L221.3 59.6 L223.3 60.3 L225.3 61.2 L227.3 62.0 L229.3 62.9 L231.3 63.8 L233.2 64.8 L235.2 65.8 L237.2 66.9 L239.2 68.0 L241.2 69.1 L243.2 70.2 L245.2 71.4 L247.2 72.6 L249.2 73.8 L251.2 75.0 L253.2 76.2 L255.2 77.4 L257.2 78.6 L259.2 79.8 L261.2 80.8 L263.2 81.9 L265.1 82.8 L267.1 83.6 L269.1 84.3 L271.1 84.9 L273.1 85.4 L275.1 85.7 L277.1 85.8 L279.1 85.7 L281.1 85.4 L283.1 84.8 L285.1 83.9 L287.1 82.9 L289.1 81.7 L291.1 80.3 L293.1 78.9 L295.1 77.4 L297.0 75.8 L299.0 74.2 L301.0 72.7 L303.0 71.1 L305.0 69.6 L307.0 68.1 L309.0 66.7 L311.0 65.3 L313.0 64.0 L315.0 62.8 L317.0 61.6 L319.0 60.5 L321.0 59.4 L323.0 58.4 L325.0 57.5 L326.9 56.6 L328.9 55.7 L330.9 54.9 L332.9 54.2 L334.9 53.4 L336.9 52.8 L338.9 52.1 L340.9 51.5 L342.9 51.0 L344.9 50.5 L346.9 50.0 L348.9 49.5 L350.9 49.0 L352.9 48.6 L354.9 48.2 L356.9 47.8 L358.8 47.5 L360.8 47.2 L362.8 46.8 L364.8 46.5 L366.8 46.2 L368.8 46.0 L370.8 45.7 L372.8 45.5 L374.8 45.2 L376.8 45.0 L378.8 44.8 L380.8 44.6 L382.8 44.4 L384.8 44.2 L386.8 44.0 L388.8 43.9 L390.7 43.7 L392.7 43.6 L394.7 43.4 L396.7 43.3 L398.7 43.1 L400.7 43.0 L402.7 42.9 L404.7 42.8 L406.7 42.7 L408.7 42.6 L410.7 42.5 L412.7 42.4 L414.7 42.3 L416.7 42.2 L418.7 42.1 L420.7 42.0 L422.6 41.9 L424.6 41.8 L426.6 41.8 L428.6 41.7 L430.6 41.6 L432.6 41.5 L434.6 41.5 L436.6 41.4 L438.6 41.4 L440.6 41.3 L442.6 41.2 L444.6 41.2 L446.6 41.1 L448.6 41.1 L450.6 41.0 L452.6 41.0 L454.5 40.9 L456.5 40.9 L458.5 40.9 L460.5 40.8 L462.5 40.8 L464.5 40.7 L466.5 40.7 L468.5 40.7 L470.5 40.6 L472.5 40.6 L474.5 40.5 L476.5 40.5 L478.5 40.5 L480.5 40.4 L482.5 40.4 L484.5 40.4 L486.4 40.4 L488.4 40.3 L490.4 40.3 L492.4 40.3 L494.4 40.3 L496.4 40.2 L498.4 40.2 L500.4 40.2 L502.4 40.2 L504.4 40.1 L506.4 40.1 L508.4 40.1 L510.4 40.1 L512.4 40.0 L514.4 40.0 L516.4 40.0 L518.3 40.0 L520.3 40.0 L522.3 40.0 L524.3 39.9 L526.3 39.9 L528.3 39.9 L530.3 39.9 L532.3 39.9"/>
<path d="M89.7 43.3 L91.7 43.3 L93.7 43.3 L95.7 43.4 L97.7 43.4 L99.7 43.4 L101.7 43.5 L103.7 43.5 L105.6 43.5 L107.6 43.6 L109.6 43.6 L111.6 43.6 L113.6 43.7 L115.6 43.7 L117.6 43.8 L119.6 43.8 L121.6 43.9 L123.6 43.9 L125.6 44.0 L127.6 44.0 L129.6 44.1 L131.6 44.2 L133.6 44.2 L135.6 44.3 L137.5 44.4 L139.5 44.4 L141.5 44.5 L143.5 44.6 L145.5 44.7 L147.5 44.8 L149.5 44.8 L151.5 44.9 L153.5 45.0 L155.5 45.1 L157.5 45.2 L159.5 45.3 L161.5 45.5 L163.5 45.6 L165.5 45.7 L167.5 45.8 L169.4 46.0 L171.4 46.1 L173.4 46.3 L175.4 46.4 L177.4 46.6 L179.4 46.8 L181.4 46.9 L183.4 47.1 L185.4 47.3 L187.4 47.5 L189.4 47.8 L191.4 48.0 L193.4 48.2 L195.4 48.5 L197.4 48.7 L199.4 49.0 L201.3 49.3 L203.3 49.6 L205.3 49.9 L207.3 50.3 L209.3 50.6 L211.3 51.0 L213.3 51.4 L215.3 51.8 L217.3 52.3 L219.3 52.7 L221.3 53.2 L223.3 53.7 L225.3 54.2 L227.3 54.8 L229.3 55.4 L231.3 56.0 L233.2 56.7 L235.2 57.3 L237.2 58.1 L239.2 58.8 L241.2 59.6 L243.2 60.4 L245.2 61.3 L247.2 62.1 L249.2 63.1 L251.2 64.0 L253.2 65.0 L255.2 66.0 L257.2 67.1 L259.2 68.1 L261.2 69.2 L263.2 70.3 L265.1 71.3 L267.1 72.4 L269.1 73.4 L271.1 74.4 L273.1 75.4 L275.1 76.3 L277.1 77.1 L279.1 77.8 L281.1 78.5 L283.1 79.0 L285.1 79.4 L287.1 79.6 L289.1 79.7 L291.1 79.6 L293.1 79.3 L295.1 78.7 L297.0 77.9 L299.0 77.0 L301.0 75.9 L303.0 74.7 L305.0 73.4 L307.0 72.1 L309.0 70.7 L311.0 69.3 L313.0 67.9 L315.0 66.6 L317.0 65.2 L319.0 63.9 L321.0 62.7 L323.0 61.5 L325.0 60.4 L326.9 59.3 L328.9 58.2 L330.9 57.3 L332.9 56.3 L334.9 55.5 L336.9 54.6 L338.9 53.9 L340.9 53.1 L342.9 52.4 L344.9 51.8 L346.9 51.2 L348.9 50.6 L350.9 50.1 L352.9 49.5 L354.9 49.1 L356.9 48.6 L358.8 48.2 L360.8 47.8 L362.8 47.4 L364.8 47.0 L366.8 46.7 L368.8 46.4 L370.8 46.1 L372.8 45.8 L374.8 45.5 L376.8 45.3 L378.8 45.0 L380.8 44.8 L382.8 44.6 L384.8 44.3 L386.8 44.1 L388.8 44.0 L390.7 43.8 L392.7 43.6 L394.7 43.4 L396.7 43.3 L398.7 43.1 L400.7 43.0 L402.7 42.9 L404.7 42.7 L406.7 42.6 L408.7 42.5 L410.7 42.4 L412.7 42.3 L414.7 42.2 L416.7 42.1 L418.7 42.0 L420.7 41.9 L422.6 41.8 L424.6 41.7 L426.6 41.6 L428.6 41.5 L430.6 41.5 L432.6 41.4 L434.6 41.3 L436.6 41.3 L438.6 41.2 L440.6 41.1 L442.6 41.1 L444.6 41.0 L446.6 41.0 L448.6 40.9 L450.6 40.9 L452.6 40.8 L454.5 40.8 L456.5 40.7 L458.5 40.7 L460.5 40.6 L462.5 40.6 L464.5 40.5 L466.5 40.5 L468.5 40.5 L470.5 40.4 L472.5 40.4 L474.5 40.3 L476.5 40.3 L478.5 40.3 L480.5 40.2 L482.5 40.2 L484.5 40.2 L486.4 40.2 L488.4 40.1 L490.4 40.1 L492.4 40.1 L494.4 40.0 L496.4 40.0 L498.4 40.0 L500.4 40.0 L502.4 39.9 L504.4 39.9 L506.4 39.9 L508.4 39.9 L510.4 39.9 L512.4 39.8 L514.4 39.8 L516.4 39.8 L518.3 39.8 L520.3 39.8 L522.3 39.7 L524.3 39.7 L526.3 39.7 L528.3 39.7 L530.3 39.7 L532.3 39.7"/>
<path d="M89.7 42.7 L91.7 42.7 L93.7 42.7 L95.7 42.7 L97.7 42.7 L99.7 42.8 L101.7 42.8 L103.7 42.8 L105.6 42.8 L107.6 42.9 L109.6 42.9 L111.6 42.9 L113.6 42.9 L115.6 43.0 L117.6 43.0 L119.6 43.0 L121.6 43.1 L123.6 43.1 L125.6 43.1 L127.6 43.2 L129.6 43.2 L131.6 43.3 L133.6 43.3 L135.6 43.3 L137.5 43.4 L139.5 43.4 L141.5 43.5 L143.5 43.6 L145.5 43.6 L147.5 43.7 L149.5 43.7 L151.5 43.8 L153.5 43.9 L155.5 43.9 L157.5 44.0 L159.5 44.1 L161.5 44.2 L163.5 44.2 L165.5 44.3 L167.5 44.4 L169.4 44.5 L171.4 44.6 L173.4 44.7 L175.4 44.8 L177.4 45.0 L179.4 45.1 L181.4 45.2 L183.4 45.3 L185.4 45.5 L187.4 45.6 L189.4 45.8 L191.4 45.9 L193.4 46.1 L195.4 46.3 L197.4 46.5 L199.4 46.7 L201.3 46.9 L203.3 47.1 L205.3 47.3 L207.3 47.5 L209.3 47.8 L211.3 48.1 L213.3 48.3 L215.3 48.6 L217.3 48.9 L219.3 49.2 L221.3 49.6 L223.3 49.9 L225.3 50.3 L227.3 50.7 L229.3 51.1 L231.3 51.6 L233.2 52.0 L235.2 52.5 L237.2 53.1 L239.2 53.6 L241.2 54.2 L243.2 54.8 L245.2 55.4 L247.2 56.1 L249.2 56.8 L251.2 57.5 L253.2 58.3 L255.2 59.1 L257.2 59.9 L259.2 60.7 L261.2 61.6 L263.2 62.6 L265.1 63.5 L267.1 64.5 L269.1 65.4 L271.1 66.4 L273.1 67.4 L275.1 68.4 L277.1 69.4 L279.1 70.3 L281.1 71.2 L283.1 72.0 L285.1 72.8 L287.1 73.5 L289.1 74.1 L291.1 74.6 L293.1 74.9 L295.1 75.2 L297.0 75.3 L299.0 75.2 L301.0 75.0 L303.0 74.5 L305.0 73.8 L307.0 72.9 L309.0 72.0 L311.0 70.9 L313.0 69.7 L315.0 68.5 L317.0 67.2 L319.0 65.9 L321.0 64.7 L323.0 63.4 L325.0 62.2 L326.9 61.0 L328.9 59.9 L330.9 58.8 L332.9 57.8 L334.9 56.8 L336.9 55.9 L338.9 55.0 L340.9 54.2 L342.9 53.4 L344.9 52.6 L346.9 51.9 L348.9 51.3 L350.9 50.7 L352.9 50.1 L354.9 49.6 L356.9 49.0 L358.8 48.6 L360.8 48.1 L362.8 47.7 L364.8 47.3 L366.8 46.9 L368.8 46.6 L370.8 46.2 L372.8 45.9 L374.8 45.6 L376.8 45.3 L378.8 45.0 L380.8 44.8 L382.8 44.6 L384.8 44.3 L386.8 44.1 L388.8 43.9 L390.7 43.7 L392.7 43.5 L394.7 43.4 L396.7 43.2 L398.7 43.0 L400.7 42.9 L402.7 42.7 L404.7 42.6 L406.7 42.5 L408.7 42.3 L410.7 42.2 L412.7 42.1 L414.7 42.0 L416.7 41.9 L418.7 41.8 L420.7 41.7 L422.6 41.6 L424.6 41.5 L426.6 41.4 L428.6 41.4 L430.6 41.3 L432.6 41.2 L434.6 41.1 L436.6 41.1 L438.6 41.0 L440.6 40.9 L442.6 40.9 L444.6 40.8 L446.6 40.8 L448.6 40.7 L450.6 40.7 L452.6 40.6 L454.5 40.6 L456.5 40.5 L458.5 40.5 L460.5 40.4 L462.5 40.4 L464.5 40.3 L466.5 40.3 L468.5 40.2 L470.5 40.2 L472.5 40.2 L474.5 40.1 L476.5 40.1 L478.5 40.1 L480.5 40.0 L482.5 40.0 L484.5 40.0 L486.4 39.9 L488.4 39.9 L490.4 39.9 L492.4 39.9 L494.4 39.8 L496.4 39.8 L498.4 39.8 L500.4 39.8 L502.4 39.7 L504.4 39.7 L506.4 39.7 L508.4 39.7 L510.4 39.6 L512.4 39.6 L514.4 39.6 L516.4 39.6 L518.3 39.6 L520.3 39.5 L522.3 39.5 L524.3 39.5 L526.3 39.5 L528.3 39.5 L530.3 39.5 L532.3 39.5"/>
<path d="M89.7 42.3 L91.7 42.3 L93.7 42.3 L95.7 42.3 L97.7 42.3 L99.7 42.3 L101.7 42.4 L103.7 42.4 L105.6 42.4 L107.6 42.4 L109.6 42.4 L111.6 42.5 L113.6 42.5 L115.6 42.5 L117.6 42.5 L119.6 42.5 L121.6 42.6 L123.6 42.6 L125.6 42.6 L127.6 42.7 L129.6 42.7 L131.6 42.7 L133.6 42.8 L135.6 42.8 L137.5 42.8 L139.5 42.9 L141.5 42.9 L143.5 42.9 L145.5 43.0 L147.5 43.0 L149.5 43.1 L151.5 43.1 L153.5 43.2 L155.5 43.2 L157.5 43.3 L159.5 43.4 L161.5 43.4 L163.5 43.5 L165.5 43.6 L167.5 43.6 L169.4 43.7 L171.4 43.8 L173.4 43.9 L175.4 44.0 L177.4 44.0 L179.4 44.1 L181.4 44.2 L183.4 44.3 L185.4 44.5 L187.4 44.6 L189.4 44.7 L191.4 44.8 L193.4 44.9 L195.4 45.1 L197.4 45.2 L199.4 45.4 L201.3 45.6 L203.3 45.7 L205.3 45.9 L207.3 46.1 L209.3 46.3 L211.3 46.5 L213.3 46.7 L215.3 47.0 L217.3 47.2 L219.3 47.5 L221.3 47.7 L223.3 48.0 L225.3 48.3 L227.3 48.6 L229.3 49.0 L231.3 49.3 L233.2 49.7 L235.2 50.1 L237.2 50.5 L239.2 51.0 L241.2 51.4 L243.2 51.9 L245.2 52.4 L247.2 53.0 L249.2 53.5 L251.2 54.1 L253.2 54.8 L255.2 55.4 L257.2 56.1 L259.2 56.8 L261.2 57.6 L263.2 58.4 L265.1 59.2 L267.1 60.0 L269.1 60.9 L271.1 61.8 L273.1 62.7 L275.1 63.6 L277.1 64.5 L279.1 65.4 L281.1 66.3 L283.1 67.1 L285.1 67.9 L287.1 68.7 L289.1 69.5 L291.1 70.1 L293.1 70.7 L295.1 71.2 L297.0 71.6 L299.0 71.9 L301.0 72.1 L303.0 72.2 L305.0 72.2 L307.0 72.0 L309.0 71.6 L311.0 71.1 L313.0 70.4 L315.0 69.6 L317.0 68.7 L319.0 67.7 L321.0 66.6 L323.0 65.4 L325.0 64.2 L326.9 63.1 L328.9 61.9 L330.9 60.8 L332.9 59.6 L334.9 58.6 L336.9 57.5 L338.9 56.5 L340.9 55.6 L342.9 54.7 L344.9 53.9 L346.9 53.1 L348.9 52.3 L350.9 51.6 L352.9 50.9 L354.9 50.3 L356.9 49.7 L358.8 49.2 L360.8 48.6 L362.8 48.1 L364.8 47.7 L366.8 47.3 L368.8 46.9 L370.8 46.5 L372.8 46.1 L374.8 45.8 L376.8 45.5 L378.8 45.2 L380.8 44.9 L382.8 44.6 L384.8 44.4 L386.8 44.1 L388.8 43.9 L390.7 43.7 L392.7 43.5 L394.7 43.3 L396.7 43.1 L398.7 42.9 L400.7 42.8 L402.7 42.6 L404.7 42.5 L406.7 42.3 L408.7 42.2 L410.7 42.1 L412.7 42.0 L414.7 41.8 L416.7 41.7 L418.7 41.6 L420.7 41.5 L422.6 41.4 L424.6 41.3 L426.6 41.3 L428.6 41.2 L430.6 41.1 L432.6 41.0 L434.6 40.9 L436.6 40.9 L438.6 40.8 L440.6 40.7 L442.6 40.7 L444.6 40.6 L446.6 40.6 L448.6 40.5 L450.6 40.4 L452.6 40.4 L454.5 40.3 L456.5 40.3 L458.5 40.2 L460.5 40.2 L462.5 40.2 L464.5 40.1 L466.5 40.1 L468.5 40.0 L470.5 40.0 L472.5 40.0 L474.5 39.9 L476.5 39.9 L478.5 39.9 L480.5 39.8 L482.5 39.8 L484.5 39.8 L486.4 39.7 L488.4 39.7 L490.4 39.7 L492.4 39.6 L494.4 39.6 L496.4 39.6 L498.4 39.6 L500.4 39.5 L502.4 39.5 L504.4 39.5 L506.4 39.5 L508.4 39.5 L510.4 39.4 L512.4 39.4 L514.4 39.4 L516.4 39.4 L518.3 39.4 L520.3 39.3 L522.3 39.3 L524.3 39.3 L526.3 39.3 L528.3 39.3 L530.3 39.3 L532.3 39.2"/>
<path d="M89.7 41.9 L91.7 41.9 L93.7 41.9 L95.7 41.9 L97.7 41.9 L99.7 42.0 L101.7 42.0 L103.7 42.0 L105.6 42.0 L107.6 42.0 L109.6 42.0 L111.6 42.0 L113.6 42.0 L115.6 42.1 L117.6 42.1 L119.6 42.1 L121.6 42.1 L123.6 42.1 L125.6 42.2 L127.6 42.2 L129.6 42.2 L131.6 42.2 L133.6 42.2 L135.6 42.3 L137.5 42.3 L139.5 42.3 L141.5 42.4 L143.5 42.4 L145.5 42.4 L147.5 42.5 L149.5 42.5 L151.5 42.5 L153.5 42.6 L155.5 42.6 L157.5 42.7 L159.5 42.7 L161.5 42.8 L163.5 42.8 L165.5 42.9 L167.5 42.9 L169.4 43.0 L171.4 43.1 L173.4 43.1 L175.4 43.2 L177.4 43.3 L179.4 43.3 L181.4 43.4 L183.4 43.5 L185.4 43.6 L187.4 43.7 L189.4 43.8 L191.4 43.9 L193.4 44.0 L195.4 44.1 L197.4 44.2 L199.4 44.3 L201.3 44.5 L203.3 44.6 L205.3 44.8 L207.3 44.9 L209.3 45.1 L211.3 45.3 L213.3 45.4 L215.3 45.6 L217.3 45.8 L219.3 46.0 L221.3 46.3 L223.3 46.5 L225.3 46.8 L227.3 47.0 L229.3 47.3 L231.3 47.6 L233.2 47.9 L235.2 48.2 L237.2 48.6 L239.2 49.0 L241.2 49.4 L243.2 49.8 L245.2 50.2 L247.2 50.7 L249.2 51.2 L251.2 51.7 L253.2 52.3 L255.2 52.8 L257.2 53.4 L259.2 54.1 L261.2 54.7 L263.2 55.4 L265.1 56.2 L267.1 56.9 L269.1 57.7 L271.1 58.5 L273.1 59.4 L275.1 60.2 L277.1 61.1 L279.1 61.9 L281.1 62.8 L283.1 63.7 L285.1 64.5 L287.1 65.3 L289.1 66.1 L291.1 66.8 L293.1 67.4 L295.1 68.0 L297.0 68.6 L299.0 69.0 L301.0 69.4 L303.0 69.6 L305.0 69.8 L307.0 69.9 L309.0 70.0 L311.0 70.0 L313.0 69.9 L315.0 69.6 L317.0 69.2 L319.0 68.6 L321.0 68.0 L323.0 67.1 L325.0 66.2 L326.9 65.2 L328.9 64.2 L330.9 63.1 L332.9 61.9 L334.9 60.8 L336.9 59.7 L338.9 58.6 L340.9 57.5 L342.9 56.5 L344.9 55.5 L346.9 54.6 L348.9 53.7 L350.9 52.9 L352.9 52.1 L354.9 51.3 L356.9 50.6 L358.8 50.0 L360.8 49.3 L362.8 48.8 L364.8 48.2 L366.8 47.7 L368.8 47.3 L370.8 46.8 L372.8 46.4 L374.8 46.0 L376.8 45.7 L378.8 45.3 L380.8 45.0 L382.8 44.7 L384.8 44.4 L386.8 44.2 L388.8 43.9 L390.7 43.7 L392.7 43.4 L394.7 43.2 L396.7 43.0 L398.7 42.9 L400.7 42.7 L402.7 42.5 L404.7 42.4 L406.7 42.2 L408.7 42.1 L410.7 41.9 L412.7 41.8 L414.7 41.7 L416.7 41.6 L418.7 41.4 L420.7 41.3 L422.6 41.2 L424.6 41.1 L426.6 41.1 L428.6 41.0 L430.6 40.9 L432.6 40.8 L434.6 40.7 L436.6 40.7 L438.6 40.6 L440.6 40.5 L442.6 40.5 L444.6 40.4 L446.6 40.3 L448.6 40.3 L450.6 40.2 L452.6 40.2 L454.5 40.1 L456.5 40.1 L458.5 40.0 L460.5 40.0 L462.5 39.9 L464.5 39.9 L466.5 39.8 L468.5 39.8 L470.5 39.8 L472.5 39.7 L474.5 39.7 L476.5 39.7 L478.5 39.6 L480.5 39.6 L482.5 39.6 L484.5 39.5 L486.4 39.5 L488.4 39.5 L490.4 39.4 L492.4 39.4 L494.4 39.4 L496.4 39.4 L498.4 39.3 L500.4 39.3 L502.4 39.3 L504.4 39.3 L506.4 39.3 L508.4 39.2 L510.4 39.2 L512.4 39.2 L514.4 39.2 L516.4 39.2 L518.3 39.1 L520.3 39.1 L522.3 39.1 L524.3 39.1 L526.3 39.1 L528.3 39.0 L530.3 39.0 L532.3 39.0"/>
<path d="M89.7 41.6 L91.7 41.6 L93.7 41.6 L95.7 41.6 L97.7 41.6 L99.7 41.6 L101.7 41.6 L103.7 41.6 L105.6 41.6 L107.6 41.7 L109.6 41.7 L111.6 41.7 L113.6 41.7 L115.6 41.7 L117.6 41.7 L119.6 41.7 L121.6 41.7 L123.6 41.8 L125.6 41.8 L127.6 41.8 L129.6 41.8 L131.6 41.8 L133.6 41.8 L135.6 41.9 L137.5 41.9 L139.5 41.9 L141.5 41.9 L143.5 42.0 L145.5 42.0 L147.5 42.0 L149.5 42.0 L151.5 42.1 L153.5 42.1 L155.5 42.1 L157.5 42.2 L159.5 42.2 L161.5 42.3 L163.5 42.3 L165.5 42.4 L167.5 42.4 L169.4 42.4 L171.4 42.5 L173.4 42.6 L175.4 42.6 L177.4 42.7 L179.4 42.7 L181.4 42.8 L183.4 42.9 L185.4 42.9 L187.4 43.0 L189.4 43.1 L191.4 43.2 L193.4 43.3 L195.4 43.4 L197.4 43.5 L199.4 43.6 L201.3 43.7 L203.3 43.8 L205.3 43.9 L207.3 44.1 L209.3 44.2 L211.3 44.4 L213.3 44.5 L215.3 44.7 L217.3 44.9 L219.3 45.0 L221.3 45.2 L223.3 45.4 L225.3 45.6 L227.3 45.9 L229.3 46.1 L231.3 46.4 L233.2 46.7 L235.2 46.9 L237.2 47.3 L239.2 47.6 L241.2 47.9 L243.2 48.3 L245.2 48.7 L247.2 49.1 L249.2 49.5 L251.2 50.0 L253.2 50.5 L255.2 51.0 L257.2 51.6 L259.2 52.1 L261.2 52.8 L263.2 53.4 L265.1 54.1 L267.1 54.8 L269.1 55.5 L271.1 56.3 L273.1 57.1 L275.1 57.9 L277.1 58.8 L279.1 59.6 L281.1 60.5 L283.1 61.4 L285.1 62.3 L287.1 63.1 L289.1 64.0 L291.1 64.8 L293.1 65.5 L295.1 66.2 L297.0 66.9 L299.0 67.4 L301.0 68.0 L303.0 68.4 L305.0 68.7 L307.0 69.0 L309.0 69.2 L311.0 69.4 L313.0 69.5 L315.0 69.5 L317.0 69.5 L319.0 69.5 L321.0 69.3 L323.0 68.9 L325.0 68.5 L326.9 67.8 L328.9 67.1 L330.9 66.2 L332.9 65.3 L334.9 64.2 L336.9 63.2 L338.9 62.0 L340.9 60.9 L342.9 59.7 L344.9 58.6 L346.9 57.5 L348.9 56.5 L350.9 55.4 L352.9 54.5 L354.9 53.6 L356.9 52.7 L358.8 51.9 L360.8 51.1 L362.8 50.4 L364.8 49.7 L366.8 49.1 L368.8 48.5 L370.8 47.9 L372.8 47.4 L374.8 46.9 L376.8 46.5 L378.8 46.1 L380.8 45.7 L382.8 45.3 L384.8 45.0 L386.8 44.7 L388.8 44.4 L390.7 44.1 L392.7 43.8 L394.7 43.6 L396.7 43.3 L398.7 43.1 L400.7 42.9 L402.7 42.7 L404.7 42.5 L406.7 42.4 L408.7 42.2 L410.7 42.0 L412.7 41.9 L414.7 41.8 L416.7 41.6 L418.7 41.5 L420.7 41.4 L422.6 41.3 L424.6 41.2 L426.6 41.1 L428.6 41.0 L430.6 40.9 L432.6 40.8 L434.6 40.7 L436.6 40.6 L438.6 40.5 L440.6 40.5 L442.6 40.4 L444.6 40.3 L446.6 40.3 L448.6 40.2 L450.6 40.1 L452.6 40.1 L454.5 40.0 L456.5 40.0 L458.5 39.9 L460.5 39.9 L462.5 39.8 L464.5 39.8 L466.5 39.7 L468.5 39.7 L470.5 39.6 L472.5 39.6 L474.5 39.6 L476.5 39.5 L478.5 39.5 L480.5 39.5 L482.5 39.4 L484.5 39.4 L486.4 39.4 L488.4 39.3 L490.4 39.3 L492.4 39.3 L494.4 39.2 L496.4 39.2 L498.4 39.2 L500.4 39.2 L502.4 39.1 L504.4 39.1 L506.4 39.1 L508.4 39.1 L510.4 39.0 L512.4 39.0 L514.4 39.0 L516.4 39.0 L518.3 39.0 L520.3 38.9 L522.3 38.9 L524.3 38.9 L526.3 38.9 L528.3 38.9 L530.3 38.9 L532.3 38.8"/>
<path d="M89.7 41.4 L91.7 41.4 L93.7 41.4 L95.7 41.4 L97.7 41.4 L99.7 41.4 L101.7 41.4 L103.7 41.4 L105.6 41.4 L107.6 41.4 L109.6 41.4 L111.6 41.4 L113.6 41.4 L115.6 41.5 L117.6 41.5 L119.6 41.5 L121.6 41.5 L123.6 41.5 L125.6 41.5 L127.6 41.5 L129.6 41.5 L131.6 41.6 L133.6 41.6 L135.6 41.6 L137.5 41.6 L139.5 41.6 L141.5 41.7 L143.5 41.7 L145.5 41.7 L147.5 41.7 L149.5 41.7 L151.5 41.8 L153.5 41.8 L155.5 41.8 L157.5 41.9 L159.5 41.9 L161.5 41.9 L163.5 42.0 L165.5 42.0 L167.5 42.1 L169.4 42.1 L171.4 42.1 L173.4 42.2 L175.4 42.2 L177.4 42.3 L179.4 42.3 L181.4 42.4 L183.4 42.5 L185.4 42.5 L187.4 42.6 L189.4 42.7 L191.4 42.7 L193.4 42.8 L195.4 42.9 L197.4 43.0 L199.4 43.1 L201.3 43.2 L203.3 43.3 L205.3 43.4 L207.3 43.5 L209.3 43.6 L211.3 43.8 L213.3 43.9 L215.3 44.0 L217.3 44.2 L219.3 44.3 L221.3 44.5 L223.3 44.7 L225.3 44.9 L227.3 45.1 L229.3 45.3 L231.3 45.5 L233.2 45.7 L235.2 46.0 L237.2 46.2 L239.2 46.5 L241.2 46.8 L243.2 47.1 L245.2 47.5 L247.2 47.8 L249.2 48.2 L251.2 48.6 L253.2 49.0 L255.2 49.5 L257.2 50.0 L259.2 50.5 L261.2 51.0 L263.2 51.6 L265.1 52.2 L267.1 52.8 L269.1 53.4 L271.1 54.1 L273.1 54.9 L275.1 55.6 L277.1 56.4 L279.1 57.2 L281.1 58.0 L283.1 58.9 L285.1 59.7 L287.1 60.6 L289.1 61.4 L291.1 62.3 L293.1 63.1 L295.1 63.9 L297.0 64.6 L299.0 65.3 L301.0 66.0 L303.0 66.5 L305.0 67.0 L307.0 67.4 L309.0 67.8 L311.0 68.0 L313.0 68.2 L315.0 68.4 L317.0 68.5 L319.0 68.5 L321.0 68.5 L323.0 68.4 L325.0 68.2 L326.9 67.9 L328.9 67.4 L330.9 66.8 L332.9 66.1 L334.9 65.2 L336.9 64.3 L338.9 63.2 L340.9 62.2 L342.9 61.1 L344.9 59.9 L346.9 58.8 L348.9 57.7 L350.9 56.6 L352.9 55.6 L354.9 54.6 L356.9 53.7 L358.8 52.8 L360.8 51.9 L362.8 51.1 L364.8 50.4 L366.8 49.7 L368.8 49.0 L370.8 48.4 L372.8 47.9 L374.8 47.3 L376.8 46.8 L378.8 46.4 L380.8 46.0 L382.8 45.6 L384.8 45.2 L386.8 44.8 L388.8 44.5 L390.7 44.2 L392.7 43.9 L394.7 43.6 L396.7 43.4 L398.7 43.1 L400.7 42.9 L402.7 42.7 L404.7 42.5 L406.7 42.3 L408.7 42.2 L410.7 42.0 L412.7 41.8 L414.7 41.7 L416.7 41.5 L418.7 41.4 L420.7 41.3 L422.6 41.2 L424.6 41.0 L426.6 40.9 L428.6 40.8 L430.6 40.7 L432.6 40.6 L434.6 40.6 L436.6 40.5 L438.6 40.4 L440.6 40.3 L442.6 40.2 L444.6 40.2 L446.6 40.1 L448.6 40.0 L450.6 40.0 L452.6 39.9 L454.5 39.8 L456.5 39.8 L458.5 39.7 L460.5 39.7 L462.5 39.6 L464.5 39.6 L466.5 39.5 L468.5 39.5 L470.5 39.5 L472.5 39.4 L474.5 39.4 L476.5 39.3 L478.5 39.3 L480.5 39.3 L482.5 39.2 L484.5 39.2 L486.4 39.2 L488.4 39.1 L490.4 39.1 L492.4 39.1 L494.4 39.0 L496.4 39.0 L498.4 39.0 L500.4 39.0 L502.4 38.9 L504.4 38.9 L506.4 38.9 L508.4 38.9 L510.4 38.9 L512.4 38.8 L514.4 38.8 L516.4 38.8 L518.3 38.8 L520.3 38.8 L522.3 38.7 L524.3 38.7 L526.3 38.7 L528.3 38.7 L530.3 38.7 L532.3 38.7"/>
<path d="M89.7 41.2 L91.7 41.2 L93.7 41.2 L95.7 41.2 L97.7 41.2 L99.7 41.2 L101.7 41.2 L103.7 41.2 L105.6 41.2 L107.6 41.2 L109.6 41.2 L111.6 41.2 L113.6 41.2 L115.6 41.2 L117.6 41.2 L119.6 41.2 L121.6 41.3 L123.6 41.3 L125.6 41.3 L127.6 41.3 L129.6 41.3 L131.6 41.3 L133.6 41.3 L135.6 41.3 L137.5 41.4 L139.5 41.4 L141.5 41.4 L143.5 41.4 L145.5 41.4 L147.5 41.5 L149.5 41.5 L151.5 41.5 L153.5 41.5 L155.5 41.6 L157.5 41.6 L159.5 41.6 L161.5 41.7 L163.5 41.7 L165.5 41.7 L167.5 41.8 L169.4 41.8 L171.4 41.8 L173.4 41.9 L175.4 41.9 L177.4 42.0 L179.4 42.0 L181.4 42.1 L183.4 42.1 L185.4 42.2 L187.4 42.3 L189.4 42.3 L191.4 42.4 L193.4 42.5 L195.4 42.5 L197.4 42.6 L199.4 42.7 L201.3 42.8 L203.3 42.9 L205.3 43.0 L207.3 43.1 L209.3 43.2 L211.3 43.3 L213.3 43.4 L215.3 43.6 L217.3 43.7 L219.3 43.9 L221.3 44.0 L223.3 44.2 L225.3 44.4 L227.3 44.5 L229.3 44.7 L231.3 44.9 L233.2 45.2 L235.2 45.4 L237.2 45.7 L239.2 45.9 L241.2 46.2 L243.2 46.5 L245.2 46.8 L247.2 47.2 L249.2 47.5 L251.2 47.9 L253.2 48.3 L255.2 48.7 L257.2 49.2 L259.2 49.7 L261.2 50.2 L263.2 50.7 L265.1 51.3 L267.1 51.9 L269.1 52.6 L271.1 53.2 L273.1 53.9 L275.1 54.7 L277.1 55.5 L279.1 56.2 L281.1 57.1 L283.1 57.9 L285.1 58.7 L287.1 59.6 L289.1 60.4 L291.1 61.2 L293.1 62.0 L295.1 62.8 L297.0 63.5 L299.0 64.2 L301.0 64.8 L303.0 65.3 L305.0 65.8 L307.0 66.2 L309.0 66.6 L311.0 66.9 L313.0 67.1 L315.0 67.2 L317.0 67.3 L319.0 67.4 L321.0 67.5 L323.0 67.5 L325.0 67.5 L326.9 67.5 L328.9 67.4 L330.9 67.1 L332.9 66.8 L334.9 66.3 L336.9 65.7 L338.9 65.0 L340.9 64.1 L342.9 63.2 L344.9 62.2 L346.9 61.2 L348.9 60.1 L350.9 59.0 L352.9 57.9 L354.9 56.8 L356.9 55.7 L358.8 54.7 L360.8 53.7 L362.8 52.8 L364.8 51.9 L366.8 51.1 L368.8 50.3 L370.8 49.6 L372.8 48.9 L374.8 48.3 L376.8 47.7 L378.8 47.1 L380.8 46.6 L382.8 46.1 L384.8 45.7 L386.8 45.3 L388.8 44.9 L390.7 44.5 L392.7 44.2 L394.7 43.9 L396.7 43.6 L398.7 43.3 L400.7 43.1 L402.7 42.8 L404.7 42.6 L406.7 42.4 L408.7 42.2 L410.7 42.0 L412.7 41.8 L414.7 41.7 L416.7 41.5 L418.7 41.4 L420.7 41.2 L422.6 41.1 L424.6 41.0 L426.6 40.9 L428.6 40.8 L430.6 40.6 L432.6 40.5 L434.6 40.5 L436.6 40.4 L438.6 40.3 L440.6 40.2 L442.6 40.1 L444.6 40.0 L446.6 40.0 L448.6 39.9 L450.6 39.8 L452.6 39.8 L454.5 39.7 L456.5 39.6 L458.5 39.6 L460.5 39.5 L462.5 39.5 L464.5 39.4 L466.5 39.4 L468.5 39.3 L470.5 39.3 L472.5 39.2 L474.5 39.2 L476.5 39.2 L478.5 39.1 L480.5 39.1 L482.5 39.1 L484.5 39.0 L486.4 39.0 L488.4 39.0 L490.4 38.9 L492.4 38.9 L494.4 38.9 L496.4 38.8 L498.4 38.8 L500.4 38.8 L502.4 38.8 L504.4 38.7 L506.4 38.7 L508.4 38.7 L510.4 38.7 L512.4 38.6 L514.4 38.6 L516.4 38.6 L518.3 38.6 L520.3 38.6 L522.3 38.5 L524.3 38.5 L526.3 38.5 L528.3 38.5 L530.3 38.5 L532.3 38.5"/>
<path d="M89.7 40.9 L91.7 40.9 L93.7 40.9 L95.7 40.9 L97.7 40.9 L99.7 40.9 L101.7 40.9 L103.7 40.9 L105.6 40.9 L107.6 40.9 L109.6 40.9 L111.6 40.9 L113.6 40.9 L115.6 40.9 L117.6 40.9 L119.6 40.9 L121.6 40.9 L123.6 40.9 L125.6 40.9 L127.6 40.9 L129.6 40.9 L131.6 40.9 L133.6 40.9 L135.6 41.0 L137.5 41.0 L139.5 41.0 L141.5 41.0 L143.5 41.0 L145.5 41.0 L147.5 41.0 L149.5 41.1 L151.5 41.1 L153.5 41.1 L155.5 41.1 L157.5 41.1 L159.5 41.2 L161.5 41.2 L163.5 41.2 L165.5 41.2 L167.5 41.3 L169.4 41.3 L171.4 41.3 L173.4 41.4 L175.4 41.4 L177.4 41.4 L179.4 41.5 L181.4 41.5 L183.4 41.6 L185.4 41.6 L187.4 41.6 L189.4 41.7 L191.4 41.8 L193.4 41.8 L195.4 41.9 L197.4 41.9 L199.4 42.0 L201.3 42.1 L203.3 42.1 L205.3 42.2 L207.3 42.3 L209.3 42.4 L211.3 42.5 L213.3 42.6 L215.3 42.7 L217.3 42.8 L219.3 42.9 L221.3 43.1 L223.3 43.2 L225.3 43.3 L227.3 43.5 L229.3 43.6 L231.3 43.8 L233.2 44.0 L235.2 44.2 L237.2 44.4 L239.2 44.6 L241.2 44.8 L243.2 45.0 L245.2 45.3 L247.2 45.6 L249.2 45.9 L251.2 46.2 L253.2 46.5 L255.2 46.9 L257.2 47.2 L259.2 47.6 L261.2 48.0 L263.2 48.5 L265.1 49.0 L267.1 49.5 L269.1 50.0 L271.1 50.6 L273.1 51.2 L275.1 51.8 L277.1 52.5 L279.1 53.2 L281.1 53.9 L283.1 54.7 L285.1 55.5 L287.1 56.3 L289.1 57.1 L291.1 57.9 L293.1 58.7 L295.1 59.5 L297.0 60.3 L299.0 61.1 L301.0 61.8 L303.0 62.5 L305.0 63.1 L307.0 63.7 L309.0 64.2 L311.0 64.6 L313.0 64.9 L315.0 65.2 L317.0 65.5 L319.0 65.7 L321.0 65.8 L323.0 65.9 L325.0 66.0 L326.9 66.0 L328.9 66.1 L330.9 66.1 L332.9 65.9 L334.9 65.7 L336.9 65.4 L338.9 64.9 L340.9 64.4 L342.9 63.7 L344.9 62.8 L346.9 61.9 L348.9 61.0 L350.9 59.9 L352.9 58.9 L354.9 57.8 L356.9 56.7 L358.8 55.7 L360.8 54.6 L362.8 53.7 L364.8 52.7 L366.8 51.8 L368.8 51.0 L370.8 50.2 L372.8 49.5 L374.8 48.8 L376.8 48.1 L378.8 47.5 L380.8 47.0 L382.8 46.5 L384.8 46.0 L386.8 45.5 L388.8 45.1 L390.7 44.7 L392.7 44.4 L394.7 44.0 L396.7 43.7 L398.7 43.4 L400.7 43.1 L402.7 42.9 L404.7 42.6 L406.7 42.4 L408.7 42.2 L410.7 42.0 L412.7 41.8 L414.7 41.6 L416.7 41.5 L418.7 41.3 L420.7 41.2 L422.6 41.0 L424.6 40.9 L426.6 40.8 L428.6 40.7 L430.6 40.6 L432.6 40.4 L434.6 40.3 L436.6 40.2 L438.6 40.2 L440.6 40.1 L442.6 40.0 L444.6 39.9 L446.6 39.8 L448.6 39.8 L450.6 39.7 L452.6 39.6 L454.5 39.6 L456.5 39.5 L458.5 39.4 L460.5 39.4 L462.5 39.3 L464.5 39.3 L466.5 39.2 L468.5 39.2 L470.5 39.1 L472.5 39.1 L474.5 39.1 L476.5 39.0 L478.5 39.0 L480.5 38.9 L482.5 38.9 L484.5 38.9 L486.4 38.8 L488.4 38.8 L490.4 38.8 L492.4 38.7 L494.4 38.7 L496.4 38.7 L498.4 38.6 L500.4 38.6 L502.4 38.6 L504.4 38.6 L506.4 38.5 L508.4 38.5 L510.4 38.5 L512.4 38.5 L514.4 38.4 L516.4 38.4 L518.3 38.4 L520.3 38.4 L522.3 38.4 L524.3 38.3 L526.3 38.3 L528.3 38.3 L530.3 38.3 L532.3 38.3"/>
<path d="M89.7 40.6 L91.7 40.6 L93.7 40.6 L95.7 40.6 L97.7 40.6 L99.7 40.6 L101.7 40.6 L103.7 40.6 L105.6 40.6 L107.6 40.6 L109.6 40.6 L111.6 40.6 L113.6 40.6 L115.6 40.7 L117.6 40.7 L119.6 40.7 L121.6 40.7 L123.6 40.7 L125.6 40.7 L127.6 40.7 L129.6 40.7 L131.6 40.7 L133.6 40.7 L135.6 40.7 L137.5 40.7 L139.5 40.7 L141.5 40.7 L143.5 40.7 L145.5 40.8 L147.5 40.8 L149.5 40.8 L151.5 40.8 L153.5 40.8 L155.5 40.8 L157.5 40.9 L159.5 40.9 L161.5 40.9 L163.5 40.9 L165.5 40.9 L167.5 41.0 L169.4 41.0 L171.4 41.0 L173.4 41.0 L175.4 41.1 L177.4 41.1 L179.4 41.1 L181.4 41.2 L183.4 41.2 L185.4 41.2 L187.4 41.3 L189.4 41.3 L191.4 41.4 L193.4 41.4 L195.4 41.5 L197.4 41.5 L199.4 41.6 L201.3 41.7 L203.3 41.7 L205.3 41.8 L207.3 41.9 L209.3 41.9 L211.3 42.0 L213.3 42.1 L215.3 42.2 L217.3 42.3 L219.3 42.4 L221.3 42.5 L223.3 42.6 L225.3 42.7 L227.3 42.9 L229.3 43.0 L231.3 43.1 L233.2 43.3 L235.2 43.4 L237.2 43.6 L239.2 43.8 L241.2 44.0 L243.2 44.2 L245.2 44.4 L247.2 44.7 L249.2 44.9 L251.2 45.2 L253.2 45.5 L255.2 45.8 L257.2 46.1 L259.2 46.4 L261.2 46.8 L263.2 47.2 L265.1 47.6 L267.1 48.0 L269.1 48.5 L271.1 49.0 L273.1 49.5 L275.1 50.1 L277.1 50.7 L279.1 51.3 L281.1 52.0 L283.1 52.7 L285.1 53.4 L287.1 54.1 L289.1 54.9 L291.1 55.7 L293.1 56.5 L295.1 57.3 L297.0 58.1 L299.0 58.9 L301.0 59.6 L303.0 60.4 L305.0 61.1 L307.0 61.7 L309.0 62.3 L311.0 62.8 L313.0 63.3 L315.0 63.6 L317.0 64.0 L319.0 64.2 L321.0 64.4 L323.0 64.6 L325.0 64.7 L326.9 64.7 L328.9 64.8 L330.9 64.9 L332.9 64.9 L334.9 64.8 L336.9 64.6 L338.9 64.3 L340.9 63.9 L342.9 63.4 L344.9 62.7 L346.9 62.0 L348.9 61.1 L350.9 60.2 L352.9 59.2 L354.9 58.2 L356.9 57.1 L358.8 56.1 L360.8 55.0 L362.8 54.0 L364.8 53.0 L366.8 52.1 L368.8 51.2 L370.8 50.4 L372.8 49.6 L374.8 48.9 L376.8 48.2 L378.8 47.6 L380.8 47.0 L382.8 46.5 L384.8 46.0 L386.8 45.5 L388.8 45.0 L390.7 44.6 L392.7 44.3 L394.7 43.9 L396.7 43.6 L398.7 43.3 L400.7 43.0 L402.7 42.7 L404.7 42.5 L406.7 42.2 L408.7 42.0 L410.7 41.8 L412.7 41.6 L414.7 41.4 L416.7 41.3 L418.7 41.1 L420.7 41.0 L422.6 40.8 L424.6 40.7 L426.6 40.6 L428.6 40.4 L430.6 40.3 L432.6 40.2 L434.6 40.1 L436.6 40.0 L438.6 39.9 L440.6 39.8 L442.6 39.8 L444.6 39.7 L446.6 39.6 L448.6 39.5 L450.6 39.5 L452.6 39.4 L454.5 39.3 L456.5 39.3 L458.5 39.2 L460.5 39.2 L462.5 39.1 L464.5 39.1 L466.5 39.0 L468.5 39.0 L470.5 38.9 L472.5 38.9 L474.5 38.8 L476.5 38.8 L478.5 38.7 L480.5 38.7 L482.5 38.7 L484.5 38.6 L486.4 38.6 L488.4 38.6 L490.4 38.5 L492.4 38.5 L494.4 38.5 L496.4 38.5 L498.4 38.4 L500.4 38.4 L502.4 38.4 L504.4 38.3 L506.4 38.3 L508.4 38.3 L510.4 38.3 L512.4 38.3 L514.4 38.2 L516.4 38.2 L518.3 38.2 L520.3 38.2 L522.3 38.1 L524.3 38.1 L526.3 38.1 L528.3 38.1 L530.3 38.1 L532.3 38.1"/>
<path d="M89.7 40.5 L91.7 40.5 L93.7 40.4 L95.7 40.4 L97.7 40.4 L99.7 40.4 L101.7 40.4 L103.7 40.4 L105.6 40.4 L107.6 40.4 L109.6 40.4 L111.6 40.4 L113.6 40.4 L115.6 40.4 L117.6 40.4 L119.6 40.4 L121.6 40.5 L123.6 40.5 L125.6 40.5 L127.6 40.5 L129.6 40.5 L131.6 40.5 L133.6 40.5 L135.6 40.5 L137.5 40.5 L139.5 40.5 L141.5 40.5 L143.5 40.5 L145.5 40.5 L147.5 40.5 L149.5 40.5 L151.5 40.6 L153.5 40.6 L155.5 40.6 L157.5 40.6 L159.5 40.6 L161.5 40.6 L163.5 40.6 L165.5 40.7 L167.5 40.7 L169.4 40.7 L171.4 40.7 L173.4 40.8 L175.4 40.8 L177.4 40.8 L179.4 40.8 L181.4 40.9 L183.4 40.9 L185.4 40.9 L187.4 41.0 L189.4 41.0 L191.4 41.0 L193.4 41.1 L195.4 41.1 L197.4 41.2 L199.4 41.2 L201.3 41.3 L203.3 41.3 L205.3 41.4 L207.3 41.5 L209.3 41.5 L211.3 41.6 L213.3 41.7 L215.3 41.7 L217.3 41.8 L219.3 41.9 L221.3 42.0 L223.3 42.1 L225.3 42.2 L227.3 42.3 L229.3 42.4 L231.3 42.6 L233.2 42.7 L235.2 42.8 L237.2 43.0 L239.2 43.1 L241.2 43.3 L243.2 43.5 L245.2 43.7 L247.2 43.9 L249.2 44.1 L251.2 44.3 L253.2 44.5 L255.2 44.8 L257.2 45.1 L259.2 45.4 L261.2 45.7 L263.2 46.0 L265.1 46.4 L267.1 46.8 L269.1 47.2 L271.1 47.6 L273.1 48.1 L275.1 48.6 L277.1 49.1 L279.1 49.6 L281.1 50.2 L283.1 50.8 L285.1 51.5 L287.1 52.2 L289.1 52.9 L291.1 53.6 L293.1 54.4 L295.1 55.1 L297.0 55.9 L299.0 56.7 L301.0 57.5 L303.0 58.2 L305.0 58.9 L307.0 59.6 L309.0 60.3 L311.0 60.9 L313.0 61.4 L315.0 61.9 L317.0 62.3 L319.0 62.6 L321.0 62.9 L323.0 63.1 L325.0 63.3 L326.9 63.4 L328.9 63.4 L330.9 63.5 L332.9 63.5 L334.9 63.5 L336.9 63.5 L338.9 63.3 L340.9 63.1 L342.9 62.7 L344.9 62.2 L346.9 61.7 L348.9 60.9 L350.9 60.1 L352.9 59.2 L354.9 58.3 L356.9 57.3 L358.8 56.3 L360.8 55.2 L362.8 54.2 L364.8 53.2 L366.8 52.3 L368.8 51.4 L370.8 50.5 L372.8 49.7 L374.8 49.0 L376.8 48.2 L378.8 47.6 L380.8 47.0 L382.8 46.4 L384.8 45.9 L386.8 45.4 L388.8 44.9 L390.7 44.5 L392.7 44.1 L394.7 43.7 L396.7 43.4 L398.7 43.1 L400.7 42.8 L402.7 42.5 L404.7 42.3 L406.7 42.0 L408.7 41.8 L410.7 41.6 L412.7 41.4 L414.7 41.2 L416.7 41.0 L418.7 40.9 L420.7 40.7 L422.6 40.6 L424.6 40.4 L426.6 40.3 L428.6 40.2 L430.6 40.1 L432.6 40.0 L434.6 39.9 L436.6 39.8 L438.6 39.7 L440.6 39.6 L442.6 39.5 L444.6 39.4 L446.6 39.4 L448.6 39.3 L450.6 39.2 L452.6 39.2 L454.5 39.1 L456.5 39.0 L458.5 39.0 L460.5 38.9 L462.5 38.9 L464.5 38.8 L466.5 38.8 L468.5 38.7 L470.5 38.7 L472.5 38.6 L474.5 38.6 L476.5 38.5 L478.5 38.5 L480.5 38.5 L482.5 38.4 L484.5 38.4 L486.4 38.4 L488.4 38.3 L490.4 38.3 L492.4 38.3 L494.4 38.2 L496.4 38.2 L498.4 38.2 L500.4 38.2 L502.4 38.1 L504.4 38.1 L506.4 38.1 L508.4 38.1 L510.4 38.0 L512.4 38.0 L514.4 38.0 L516.4 38.0 L518.3 38.0 L520.3 37.9 L522.3 37.9 L524.3 37.9 L526.3 37.9 L528.3 37.9 L530.3 37.9 L532.3 37.8"/>
<path d="M89.7 40.2 L91.7 40.2 L93.7 40.2 L95.7 40.2 L97.7 40.2 L99.7 40.2 L101.7 40.2 L103.7 40.2 L105.6 40.2 L107.6 40.2 L109.6 40.2 L111.6 40.2 L113.6 40.2 L115.6 40.2 L117.6 40.2 L119.6 40.2 L121.6 40.2 L123.6 40.2 L125.6 40.2 L127.6 40.2 L129.6 40.2 L131.6 40.2 L133.6 40.2 L135.6 40.2 L137.5 40.2 L139.5 40.2 L141.5 40.2 L143.5 40.2 L145.5 40.3 L147.5 40.3 L149.5 40.3 L151.5 40.3 L153.5 40.3 L155.5 40.3 L157.5 40.3 L159.5 40.3 L161.5 40.3 L163.5 40.4 L165.5 40.4 L167.5 40.4 L169.4 40.4 L171.4 40.4 L173.4 40.4 L175.4 40.5 L177.4 40.5 L179.4 40.5 L181.4 40.5 L183.4 40.6 L185.4 40.6 L187.4 40.6 L189.4 40.7 L191.4 40.7 L193.4 40.7 L195.4 40.8 L197.4 40.8 L199.4 40.8 L201.3 40.9 L203.3 40.9 L205.3 41.0 L207.3 41.0 L209.3 41.1 L211.3 41.2 L213.3 41.2 L215.3 41.3 L217.3 41.4 L219.3 41.4 L221.3 41.5 L223.3 41.6 L225.3 41.7 L227.3 41.8 L229.3 41.9 L231.3 42.0 L233.2 42.1 L235.2 42.2 L237.2 42.4 L239.2 42.5 L241.2 42.6 L243.2 42.8 L245.2 43.0 L247.2 43.1 L249.2 43.3 L251.2 43.5 L253.2 43.7 L255.2 43.9 L257.2 44.2 L259.2 44.4 L261.2 44.7 L263.2 45.0 L265.1 45.3 L267.1 45.7 L269.1 46.0 L271.1 46.4 L273.1 46.8 L275.1 47.2 L277.1 47.7 L279.1 48.2 L281.1 48.7 L283.1 49.2 L285.1 49.8 L287.1 50.4 L289.1 51.1 L291.1 51.7 L293.1 52.4 L295.1 53.2 L297.0 53.9 L299.0 54.6 L301.0 55.4 L303.0 56.2 L305.0 56.9 L307.0 57.6 L309.0 58.3 L311.0 59.0 L313.0 59.6 L315.0 60.1 L317.0 60.6 L319.0 61.0 L321.0 61.4 L323.0 61.6 L325.0 61.9 L326.9 62.0 L328.9 62.1 L330.9 62.2 L332.9 62.3 L334.9 62.3 L336.9 62.3 L338.9 62.3 L340.9 62.2 L342.9 62.0 L344.9 61.7 L346.9 61.2 L348.9 60.7 L350.9 60.0 L352.9 59.3 L354.9 58.4 L356.9 57.5 L358.8 56.5 L360.8 55.5 L362.8 54.5 L364.8 53.6 L366.8 52.6 L368.8 51.7 L370.8 50.8 L372.8 50.0 L374.8 49.2 L376.8 48.4 L378.8 47.7 L380.8 47.1 L382.8 46.5 L384.8 45.9 L386.8 45.4 L388.8 44.9 L390.7 44.5 L392.7 44.1 L394.7 43.7 L396.7 43.3 L398.7 43.0 L400.7 42.7 L402.7 42.4 L404.7 42.2 L406.7 41.9 L408.7 41.7 L410.7 41.5 L412.7 41.3 L414.7 41.1 L416.7 40.9 L418.7 40.7 L420.7 40.6 L422.6 40.4 L424.6 40.3 L426.6 40.2 L428.6 40.0 L430.6 39.9 L432.6 39.8 L434.6 39.7 L436.6 39.6 L438.6 39.5 L440.6 39.4 L442.6 39.3 L444.6 39.3 L446.6 39.2 L448.6 39.1 L450.6 39.0 L452.6 39.0 L454.5 38.9 L456.5 38.8 L458.5 38.8 L460.5 38.7 L462.5 38.7 L464.5 38.6 L466.5 38.6 L468.5 38.5 L470.5 38.5 L472.5 38.4 L474.5 38.4 L476.5 38.4 L478.5 38.3 L480.5 38.3 L482.5 38.2 L484.5 38.2 L486.4 38.2 L488.4 38.1 L490.4 38.1 L492.4 38.1 L494.4 38.1 L496.4 38.0 L498.4 38.0 L500.4 38.0 L502.4 37.9 L504.4 37.9 L506.4 37.9 L508.4 37.9 L510.4 37.9 L512.4 37.8 L514.4 37.8 L516.4 37.8 L518.3 37.8 L520.3 37.7 L522.3 37.7 L524.3 37.7 L526.3 37.7 L528.3 37.7 L530.3 37.7 L532.3 37.7"/>
</g>
<path d="M96 100.5 H526" stroke="#4a4a4a" stroke-width="1.3" stroke-dasharray="12.8 13.26" fill="none"/>
<rect x="89.7" y="36.5" width="442.59999999999997" height="303.6" fill="none" stroke="#000" stroke-width="1.3"/>
<g stroke="#000" stroke-width="1.1" fill="none">
<path d="M89.7 87.1 h3.8 M532.3 87.1 h-3.8"/>
<path d="M89.7 137.7 h3.8 M532.3 137.7 h-3.8"/>
<path d="M89.7 188.3 h3.8 M532.3 188.3 h-3.8"/>
<path d="M89.7 238.9 h3.8 M532.3 238.9 h-3.8"/>
<path d="M89.7 289.5 h3.8 M532.3 289.5 h-3.8"/>
<path d="M237.2 340.1 v-3.8 M237.2 36.5 v3.8"/>
<path d="M384.8 340.1 v-3.8 M384.8 36.5 v3.8"/>
</g>
<g class="serif" font-size="26" fill="#000">
<text x="83.1" y="46.0" text-anchor="end">0</text>
<text x="83.1" y="96.6" text-anchor="end">−5</text>
<text x="83.1" y="147.2" text-anchor="end">−10</text>
<text x="83.1" y="197.8" text-anchor="end">−15</text>
<text x="83.1" y="248.4" text-anchor="end">−20</text>
<text x="83.1" y="299.0" text-anchor="end">−25</text>
<text x="83.1" y="349.6" text-anchor="end">−30</text>
<text x="89.7" y="368.8" text-anchor="middle" font-size="25.7">3.8</text>
<text x="237.2" y="368.8" text-anchor="middle" font-size="25.7">3.9</text>
<text x="384.8" y="368.8" text-anchor="middle" font-size="25.7">4</text>
<text x="530.8" y="368.8" text-anchor="middle" font-size="25.7">4.1</text>
</g>
<g class="serif" font-style="italic" font-size="26" fill="#000">
<text><tspan x="270.3" y="397.8" font-size="27">f</tspan><tspan x="286.2" y="402.6" font-size="36" stroke="#fff" stroke-width="0.5">/</tspan><tspan x="298.8 321 343.3" y="397.8">GHz</tspan></text>
<g transform="translate(26.2 234) rotate(-90)">
<text><tspan x="-0.5" y="-0.5" font-style="normal" font-size="29">|</tspan><tspan x="7" y="0" font-size="30">S</tspan><tspan x="21.8 29.5" y="4.8" font-size="19">ij</tspan><tspan x="37.5" y="-0.5" font-style="normal" font-size="29">|</tspan><tspan x="42.6" y="5" font-size="36" stroke="#fff" stroke-width="0.5">/</tspan><tspan x="57.6" y="0" font-size="28.5">d</tspan><tspan x="72.3" y="0" font-size="26.5">B</tspan></text>
</g>
</g>
<g fill="#f7820c" stroke="none" class="sans">
<path d="M176 100 L334.7 36.6" stroke="#f7820c" stroke-width="4.8" fill="none"/>
<path d="M352.3 29.6 L334.3 46.5 L334.7 36.6 L327.6 29.8Z" stroke="#f7820c" stroke-width="1.4" stroke-linejoin="round"/>
<path d="M177.4 132.3 L299.3 234.3" stroke="#f7820c" stroke-width="4.8" fill="none"/>
<path d="M313.9 246.5 L290.5 238.6 L299.3 234.3 L302.0 224.8Z" stroke="#f7820c" stroke-width="1.4" stroke-linejoin="round"/>
<text x="265.7" y="21.4" font-size="21.4" textLength="227" lengthAdjust="spacing">increasing coupling gap</text>
<text x="288" y="269" font-size="21" textLength="96" lengthAdjust="spacing">increasing</text>
<text x="288" y="291.4" font-size="21" textLength="119" lengthAdjust="spacing">coupling gap</text>
</g>
<g fill="#000" class="sans" font-weight="bold">
<path d="M489.7 67.8 L490.9 131.5" stroke="#000" stroke-width="1.3" fill="none"/>
<path d="M489.4 52.3 L498.1 73.6 L489.7 67.8 L481.5 74.0Z"/>
<path d="M491.2 146.5 L482.3 125.2 L490.9 131.5 L499.3 124.8Z"/>
<text x="495.6" y="61" font-size="20.5">S</text>
<text x="509.5" y="71.9" font-size="16.5">11</text>
<text x="496" y="152.7" font-size="20.5">S</text>
<text x="510" y="163.3" font-size="16.5">21</text>
</g>
</svg>
</body></html>
